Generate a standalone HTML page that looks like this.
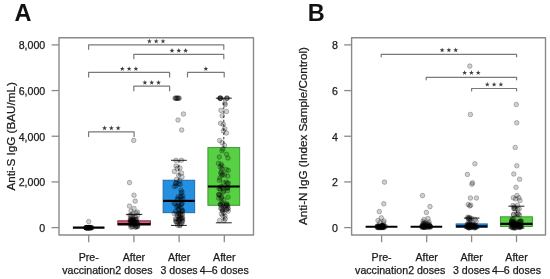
<!DOCTYPE html>
<html><head><meta charset="utf-8"><style>
html,body{margin:0;padding:0;background:#fff;width:550px;height:279px;overflow:hidden;position:relative}
</style></head><body>
<svg width="550" height="279" viewBox="0 0 550 279" style="position:absolute;left:0;top:0;will-change:transform;filter:blur(0.3px)">
<text x="14.4" y="20.6" style="font-family:'Liberation Sans', sans-serif;font-weight:bold;font-size:23.5px" fill="#111">A</text>
<text x="307.8" y="20.6" style="font-family:'Liberation Sans', sans-serif;font-weight:bold;font-size:23.5px" fill="#111">B</text>
<rect x="59.0" y="37.7" width="194.5" height="197.3" fill="none" stroke="#8a8a8a" stroke-width="1.4" stroke-linejoin="round"/>
<rect x="351.6" y="37.7" width="193.89999999999998" height="197.3" fill="none" stroke="#8a8a8a" stroke-width="1.4" stroke-linejoin="round"/>
<line x1="51.6" y1="44.900000000000006" x2="59.0" y2="44.900000000000006" stroke="#8a8a8a" stroke-width="1.3"/>
<text x="45.2" y="49.300000000000004" text-anchor="end" style="font-family:'Liberation Sans', sans-serif;font-size:10.6px" fill="#1a1a1a" stroke="#1a1a1a" stroke-width="0.25">8,000</text>
<line x1="51.6" y1="90.57500000000002" x2="59.0" y2="90.57500000000002" stroke="#8a8a8a" stroke-width="1.3"/>
<text x="45.2" y="94.97500000000002" text-anchor="end" style="font-family:'Liberation Sans', sans-serif;font-size:10.6px" fill="#1a1a1a" stroke="#1a1a1a" stroke-width="0.25">6,000</text>
<line x1="51.6" y1="136.25" x2="59.0" y2="136.25" stroke="#8a8a8a" stroke-width="1.3"/>
<text x="45.2" y="140.65" text-anchor="end" style="font-family:'Liberation Sans', sans-serif;font-size:10.6px" fill="#1a1a1a" stroke="#1a1a1a" stroke-width="0.25">4,000</text>
<line x1="51.6" y1="181.925" x2="59.0" y2="181.925" stroke="#8a8a8a" stroke-width="1.3"/>
<text x="45.2" y="186.32500000000002" text-anchor="end" style="font-family:'Liberation Sans', sans-serif;font-size:10.6px" fill="#1a1a1a" stroke="#1a1a1a" stroke-width="0.25">2,000</text>
<line x1="51.6" y1="227.6" x2="59.0" y2="227.6" stroke="#8a8a8a" stroke-width="1.3"/>
<text x="45.2" y="232.0" text-anchor="end" style="font-family:'Liberation Sans', sans-serif;font-size:10.6px" fill="#1a1a1a" stroke="#1a1a1a" stroke-width="0.25">0</text>
<line x1="344.20000000000005" y1="44.900000000000006" x2="351.6" y2="44.900000000000006" stroke="#8a8a8a" stroke-width="1.3"/>
<text x="337.8" y="49.300000000000004" text-anchor="end" style="font-family:'Liberation Sans', sans-serif;font-size:10.6px" fill="#1a1a1a" stroke="#1a1a1a" stroke-width="0.25">8</text>
<line x1="344.20000000000005" y1="90.57500000000002" x2="351.6" y2="90.57500000000002" stroke="#8a8a8a" stroke-width="1.3"/>
<text x="337.8" y="94.97500000000002" text-anchor="end" style="font-family:'Liberation Sans', sans-serif;font-size:10.6px" fill="#1a1a1a" stroke="#1a1a1a" stroke-width="0.25">6</text>
<line x1="344.20000000000005" y1="136.25" x2="351.6" y2="136.25" stroke="#8a8a8a" stroke-width="1.3"/>
<text x="337.8" y="140.65" text-anchor="end" style="font-family:'Liberation Sans', sans-serif;font-size:10.6px" fill="#1a1a1a" stroke="#1a1a1a" stroke-width="0.25">4</text>
<line x1="344.20000000000005" y1="181.925" x2="351.6" y2="181.925" stroke="#8a8a8a" stroke-width="1.3"/>
<text x="337.8" y="186.32500000000002" text-anchor="end" style="font-family:'Liberation Sans', sans-serif;font-size:10.6px" fill="#1a1a1a" stroke="#1a1a1a" stroke-width="0.25">2</text>
<line x1="344.20000000000005" y1="227.6" x2="351.6" y2="227.6" stroke="#8a8a8a" stroke-width="1.3"/>
<text x="337.8" y="232.0" text-anchor="end" style="font-family:'Liberation Sans', sans-serif;font-size:10.6px" fill="#1a1a1a" stroke="#1a1a1a" stroke-width="0.25">0</text>
<line x1="88.7" y1="235.0" x2="88.7" y2="242.2" stroke="#8a8a8a" stroke-width="1.3"/>
<text x="88.7" y="260.5" text-anchor="middle" style="font-family:'Liberation Sans', sans-serif;font-size:10.6px" fill="#1a1a1a" stroke="#1a1a1a" stroke-width="0.25">Pre-</text>
<text x="88.7" y="274.3" text-anchor="middle" style="font-family:'Liberation Sans', sans-serif;font-size:10.6px" fill="#1a1a1a" stroke="#1a1a1a" stroke-width="0.25">vaccination</text>
<line x1="133.9" y1="235.0" x2="133.9" y2="242.2" stroke="#8a8a8a" stroke-width="1.3"/>
<text x="133.9" y="260.5" text-anchor="middle" style="font-family:'Liberation Sans', sans-serif;font-size:10.6px" fill="#1a1a1a" stroke="#1a1a1a" stroke-width="0.25">After</text>
<text x="133.9" y="274.3" text-anchor="middle" style="font-family:'Liberation Sans', sans-serif;font-size:10.6px" fill="#1a1a1a" stroke="#1a1a1a" stroke-width="0.25">2 doses</text>
<line x1="179.1" y1="235.0" x2="179.1" y2="242.2" stroke="#8a8a8a" stroke-width="1.3"/>
<text x="179.1" y="260.5" text-anchor="middle" style="font-family:'Liberation Sans', sans-serif;font-size:10.6px" fill="#1a1a1a" stroke="#1a1a1a" stroke-width="0.25">After</text>
<text x="179.1" y="274.3" text-anchor="middle" style="font-family:'Liberation Sans', sans-serif;font-size:10.6px" fill="#1a1a1a" stroke="#1a1a1a" stroke-width="0.25">3 doses</text>
<line x1="224.3" y1="235.0" x2="224.3" y2="242.2" stroke="#8a8a8a" stroke-width="1.3"/>
<text x="224.3" y="260.5" text-anchor="middle" style="font-family:'Liberation Sans', sans-serif;font-size:10.6px" fill="#1a1a1a" stroke="#1a1a1a" stroke-width="0.25">After</text>
<text x="224.3" y="274.3" text-anchor="middle" style="font-family:'Liberation Sans', sans-serif;font-size:10.6px" fill="#1a1a1a" stroke="#1a1a1a" stroke-width="0.25">4–6 doses</text>
<line x1="381.6" y1="235.0" x2="381.6" y2="242.2" stroke="#8a8a8a" stroke-width="1.3"/>
<text x="381.6" y="260.5" text-anchor="middle" style="font-family:'Liberation Sans', sans-serif;font-size:10.6px" fill="#1a1a1a" stroke="#1a1a1a" stroke-width="0.25">Pre-</text>
<text x="381.6" y="274.3" text-anchor="middle" style="font-family:'Liberation Sans', sans-serif;font-size:10.6px" fill="#1a1a1a" stroke="#1a1a1a" stroke-width="0.25">vaccination</text>
<line x1="426.7" y1="235.0" x2="426.7" y2="242.2" stroke="#8a8a8a" stroke-width="1.3"/>
<text x="426.7" y="260.5" text-anchor="middle" style="font-family:'Liberation Sans', sans-serif;font-size:10.6px" fill="#1a1a1a" stroke="#1a1a1a" stroke-width="0.25">After</text>
<text x="426.7" y="274.3" text-anchor="middle" style="font-family:'Liberation Sans', sans-serif;font-size:10.6px" fill="#1a1a1a" stroke="#1a1a1a" stroke-width="0.25">2 doses</text>
<line x1="471.6" y1="235.0" x2="471.6" y2="242.2" stroke="#8a8a8a" stroke-width="1.3"/>
<text x="471.6" y="260.5" text-anchor="middle" style="font-family:'Liberation Sans', sans-serif;font-size:10.6px" fill="#1a1a1a" stroke="#1a1a1a" stroke-width="0.25">After</text>
<text x="471.6" y="274.3" text-anchor="middle" style="font-family:'Liberation Sans', sans-serif;font-size:10.6px" fill="#1a1a1a" stroke="#1a1a1a" stroke-width="0.25">3 doses</text>
<line x1="516.5" y1="235.0" x2="516.5" y2="242.2" stroke="#8a8a8a" stroke-width="1.3"/>
<text x="516.5" y="260.5" text-anchor="middle" style="font-family:'Liberation Sans', sans-serif;font-size:10.6px" fill="#1a1a1a" stroke="#1a1a1a" stroke-width="0.25">After</text>
<text x="516.5" y="274.3" text-anchor="middle" style="font-family:'Liberation Sans', sans-serif;font-size:10.6px" fill="#1a1a1a" stroke="#1a1a1a" stroke-width="0.25">4–6 doses</text>
<text transform="translate(14.8,136.3) rotate(-90)" text-anchor="middle" style="font-family:'Liberation Sans', sans-serif;font-size:11.7px" fill="#1a1a1a" stroke="#1a1a1a" stroke-width="0.25">Anti-S IgG (BAU/mL)</text>
<text transform="translate(307.3,136.0) rotate(-90)" text-anchor="middle" style="font-family:'Liberation Sans', sans-serif;font-size:11.7px" fill="#1a1a1a" stroke="#1a1a1a" stroke-width="0.25">Anti-N IgG (Index Sample/Control)</text>
<path d="M88.6,49.3 V44.9 H223.8 V49.3" fill="none" stroke="#7a7a7a" stroke-width="1.2" stroke-linejoin="round" stroke-linecap="round"/>
<polygon points="149.40,38.70 150.01,40.46 151.87,40.50 150.39,41.62 150.93,43.40 149.40,42.34 147.87,43.40 148.41,41.62 146.93,40.50 148.79,40.46" fill="#3c3c3c"/>
<polygon points="156.20,38.70 156.81,40.46 158.67,40.50 157.19,41.62 157.73,43.40 156.20,42.34 154.67,43.40 155.21,41.62 153.73,40.50 155.59,40.46" fill="#3c3c3c"/>
<polygon points="163.00,38.70 163.61,40.46 165.47,40.50 163.99,41.62 164.53,43.40 163.00,42.34 161.47,43.40 162.01,41.62 160.53,40.50 162.39,40.46" fill="#3c3c3c"/>
<path d="M133.8,58.699999999999996 V54.3 H223.8 V58.699999999999996" fill="none" stroke="#7a7a7a" stroke-width="1.2" stroke-linejoin="round" stroke-linecap="round"/>
<polygon points="172.00,48.10 172.61,49.86 174.47,49.90 172.99,51.02 173.53,52.80 172.00,51.74 170.47,52.80 171.01,51.02 169.53,49.90 171.39,49.86" fill="#3c3c3c"/>
<polygon points="178.80,48.10 179.41,49.86 181.27,49.90 179.79,51.02 180.33,52.80 178.80,51.74 177.27,52.80 177.81,51.02 176.33,49.90 178.19,49.86" fill="#3c3c3c"/>
<polygon points="185.60,48.10 186.21,49.86 188.07,49.90 186.59,51.02 187.13,52.80 185.60,51.74 184.07,52.80 184.61,51.02 183.13,49.90 184.99,49.86" fill="#3c3c3c"/>
<path d="M88.6,77.0 V72.4 H169.6 V77.0" fill="none" stroke="#7a7a7a" stroke-width="1.2" stroke-linejoin="round" stroke-linecap="round"/>
<polygon points="122.30,66.20 122.91,67.96 124.77,68.00 123.29,69.12 123.83,70.90 122.30,69.84 120.77,70.90 121.31,69.12 119.83,68.00 121.69,67.96" fill="#3c3c3c"/>
<polygon points="129.10,66.20 129.71,67.96 131.57,68.00 130.09,69.12 130.63,70.90 129.10,69.84 127.57,70.90 128.11,69.12 126.63,68.00 128.49,67.96" fill="#3c3c3c"/>
<polygon points="135.90,66.20 136.51,67.96 138.37,68.00 136.89,69.12 137.43,70.90 135.90,69.84 134.37,70.90 134.91,69.12 133.43,68.00 135.29,67.96" fill="#3c3c3c"/>
<path d="M187.5,77.0 V72.4 H224.2 V77.0" fill="none" stroke="#7a7a7a" stroke-width="1.2" stroke-linejoin="round" stroke-linecap="round"/>
<polygon points="205.85,66.20 206.46,67.96 208.32,68.00 206.84,69.12 207.38,70.90 205.85,69.84 204.32,70.90 204.86,69.12 203.38,68.00 205.24,67.96" fill="#3c3c3c"/>
<path d="M133.8,90.8 V86.2 H169.6 V90.8" fill="none" stroke="#7a7a7a" stroke-width="1.2" stroke-linejoin="round" stroke-linecap="round"/>
<polygon points="144.90,80.00 145.51,81.76 147.37,81.80 145.89,82.92 146.43,84.70 144.90,83.64 143.37,84.70 143.91,82.92 142.43,81.80 144.29,81.76" fill="#3c3c3c"/>
<polygon points="151.70,80.00 152.31,81.76 154.17,81.80 152.69,82.92 153.23,84.70 151.70,83.64 150.17,84.70 150.71,82.92 149.23,81.80 151.09,81.76" fill="#3c3c3c"/>
<polygon points="158.50,80.00 159.11,81.76 160.97,81.80 159.49,82.92 160.03,84.70 158.50,83.64 156.97,84.70 157.51,82.92 156.03,81.80 157.89,81.76" fill="#3c3c3c"/>
<path d="M88.6,136.4 V131.8 H134.1 V136.4" fill="none" stroke="#7a7a7a" stroke-width="1.2" stroke-linejoin="round" stroke-linecap="round"/>
<polygon points="104.55,125.60 105.16,127.36 107.02,127.40 105.54,128.52 106.08,130.30 104.55,129.24 103.02,130.30 103.56,128.52 102.08,127.40 103.94,127.36" fill="#3c3c3c"/>
<polygon points="111.35,125.60 111.96,127.36 113.82,127.40 112.34,128.52 112.88,130.30 111.35,129.24 109.82,130.30 110.36,128.52 108.88,127.40 110.74,127.36" fill="#3c3c3c"/>
<polygon points="118.15,125.60 118.76,127.36 120.62,127.40 119.14,128.52 119.68,130.30 118.15,129.24 116.62,130.30 117.16,128.52 115.68,127.40 117.54,127.36" fill="#3c3c3c"/>
<path d="M381.2,56.8 V54.4 H516.6 V56.8" fill="none" stroke="#7a7a7a" stroke-width="1.2" stroke-linejoin="round" stroke-linecap="round"/>
<polygon points="442.10,47.60 442.71,49.36 444.57,49.40 443.09,50.52 443.63,52.30 442.10,51.24 440.57,52.30 441.11,50.52 439.63,49.40 441.49,49.36" fill="#3c3c3c"/>
<polygon points="448.90,47.60 449.51,49.36 451.37,49.40 449.89,50.52 450.43,52.30 448.90,51.24 447.37,52.30 447.91,50.52 446.43,49.40 448.29,49.36" fill="#3c3c3c"/>
<polygon points="455.70,47.60 456.31,49.36 458.17,49.40 456.69,50.52 457.23,52.30 455.70,51.24 454.17,52.30 454.71,50.52 453.23,49.40 455.09,49.36" fill="#3c3c3c"/>
<path d="M426.2,79.80000000000001 V77.4 H516.6 V79.80000000000001" fill="none" stroke="#7a7a7a" stroke-width="1.2" stroke-linejoin="round" stroke-linecap="round"/>
<polygon points="464.60,70.20 465.21,71.96 467.07,72.00 465.59,73.12 466.13,74.90 464.60,73.84 463.07,74.90 463.61,73.12 462.13,72.00 463.99,71.96" fill="#3c3c3c"/>
<polygon points="471.40,70.20 472.01,71.96 473.87,72.00 472.39,73.12 472.93,74.90 471.40,73.84 469.87,74.90 470.41,73.12 468.93,72.00 470.79,71.96" fill="#3c3c3c"/>
<polygon points="478.20,70.20 478.81,71.96 480.67,72.00 479.19,73.12 479.73,74.90 478.20,73.84 476.67,74.90 477.21,73.12 475.73,72.00 477.59,71.96" fill="#3c3c3c"/>
<path d="M471.6,90.9 V88.5 H516.6 V90.9" fill="none" stroke="#7a7a7a" stroke-width="1.2" stroke-linejoin="round" stroke-linecap="round"/>
<polygon points="487.30,81.90 487.91,83.66 489.77,83.70 488.29,84.82 488.83,86.60 487.30,85.54 485.77,86.60 486.31,84.82 484.83,83.70 486.69,83.66" fill="#3c3c3c"/>
<polygon points="494.10,81.90 494.71,83.66 496.57,83.70 495.09,84.82 495.63,86.60 494.10,85.54 492.57,86.60 493.11,84.82 491.63,83.70 493.49,83.66" fill="#3c3c3c"/>
<polygon points="500.90,81.90 501.51,83.66 503.37,83.70 501.89,84.82 502.43,86.60 500.90,85.54 499.37,86.60 499.91,84.82 498.43,83.70 500.29,83.66" fill="#3c3c3c"/>
<line x1="72.9" y1="227.7" x2="104.5" y2="227.7" stroke="#000" stroke-width="2.2"/>
<line x1="134.1" y1="214.4" x2="134.1" y2="220.8" stroke="#222" stroke-width="0.9" stroke-dasharray="2.5,1.8"/>
<line x1="125.94999999999999" y1="214.4" x2="142.25" y2="214.4" stroke="#222" stroke-width="1"/>
<rect x="117.8" y="220.8" width="32.6" height="4.199999999999989" fill="#e2557a" stroke="#7a2030" stroke-width="0.9"/>
<line x1="117.8" y1="224.1" x2="150.4" y2="224.1" stroke="#000" stroke-width="2.2"/>
<line x1="178.9" y1="160.3" x2="178.9" y2="180.2" stroke="#222" stroke-width="0.9" stroke-dasharray="2.5,1.8"/>
<line x1="171.0" y1="160.3" x2="186.8" y2="160.3" stroke="#222" stroke-width="1"/>
<line x1="178.9" y1="212.7" x2="178.9" y2="225.4" stroke="#222" stroke-width="0.9" stroke-dasharray="2.5,1.8"/>
<line x1="171.0" y1="225.4" x2="186.8" y2="225.4" stroke="#222" stroke-width="1"/>
<rect x="163.1" y="180.2" width="31.6" height="32.5" fill="#2590e0" stroke="#1a65a8" stroke-width="0.9"/>
<line x1="163.1" y1="200.9" x2="194.70000000000002" y2="200.9" stroke="#000" stroke-width="2.2"/>
<line x1="223.8" y1="98.2" x2="223.8" y2="147.6" stroke="#222" stroke-width="0.9" stroke-dasharray="2.5,1.8"/>
<line x1="215.85000000000002" y1="98.2" x2="231.75" y2="98.2" stroke="#222" stroke-width="1"/>
<line x1="223.8" y1="205.3" x2="223.8" y2="222.8" stroke="#222" stroke-width="0.9" stroke-dasharray="2.5,1.8"/>
<line x1="215.85000000000002" y1="222.8" x2="231.75" y2="222.8" stroke="#222" stroke-width="1"/>
<rect x="207.9" y="147.6" width="31.8" height="57.70000000000002" fill="#58d044" stroke="#34902a" stroke-width="0.9"/>
<line x1="207.9" y1="186.5" x2="239.70000000000002" y2="186.5" stroke="#000" stroke-width="2.2"/>
<line x1="365.6" y1="226.8" x2="397.4" y2="226.8" stroke="#000" stroke-width="2.0"/>
<line x1="410.59999999999997" y1="226.8" x2="442.2" y2="226.8" stroke="#000" stroke-width="2.0"/>
<line x1="471.7" y1="218.1" x2="471.7" y2="223.9" stroke="#222" stroke-width="0.9" stroke-dasharray="2.5,1.8"/>
<line x1="463.9" y1="218.1" x2="479.5" y2="218.1" stroke="#222" stroke-width="1"/>
<line x1="471.7" y1="227.2" x2="471.7" y2="228.0" stroke="#222" stroke-width="0.9" stroke-dasharray="2.5,1.8"/>
<line x1="463.9" y1="228.0" x2="479.5" y2="228.0" stroke="#222" stroke-width="1"/>
<rect x="456.09999999999997" y="223.9" width="31.2" height="3.299999999999983" fill="#2590e0" stroke="#1a65a8" stroke-width="0.9"/>
<line x1="456.09999999999997" y1="226.4" x2="487.3" y2="226.4" stroke="#000" stroke-width="2.2"/>
<line x1="516.4" y1="206.2" x2="516.4" y2="216.8" stroke="#222" stroke-width="0.9" stroke-dasharray="2.5,1.8"/>
<line x1="508.4" y1="206.2" x2="524.4" y2="206.2" stroke="#222" stroke-width="1"/>
<line x1="516.4" y1="226.5" x2="516.4" y2="228.0" stroke="#222" stroke-width="0.9" stroke-dasharray="2.5,1.8"/>
<line x1="508.4" y1="228.0" x2="524.4" y2="228.0" stroke="#222" stroke-width="1"/>
<rect x="500.4" y="216.8" width="32.0" height="9.699999999999989" fill="#58d044" stroke="#34902a" stroke-width="0.9"/>
<line x1="500.4" y1="223.8" x2="532.4" y2="223.8" stroke="#000" stroke-width="2.2"/>
<circle cx="86.5" cy="227.7" r="2.3" fill="rgba(0,0,0,0.19)" stroke="rgba(0,0,0,0.32)" stroke-width="0.8"/>
<circle cx="86.0" cy="227.7" r="2.3" fill="rgba(0,0,0,0.19)" stroke="rgba(0,0,0,0.32)" stroke-width="0.8"/>
<circle cx="88.0" cy="227.7" r="2.3" fill="rgba(0,0,0,0.19)" stroke="rgba(0,0,0,0.32)" stroke-width="0.8"/>
<circle cx="89.0" cy="227.7" r="2.3" fill="rgba(0,0,0,0.19)" stroke="rgba(0,0,0,0.32)" stroke-width="0.8"/>
<circle cx="88.4" cy="227.7" r="2.3" fill="rgba(0,0,0,0.19)" stroke="rgba(0,0,0,0.32)" stroke-width="0.8"/>
<circle cx="86.1" cy="227.7" r="2.3" fill="rgba(0,0,0,0.19)" stroke="rgba(0,0,0,0.32)" stroke-width="0.8"/>
<circle cx="91.1" cy="227.7" r="2.3" fill="rgba(0,0,0,0.19)" stroke="rgba(0,0,0,0.32)" stroke-width="0.8"/>
<circle cx="87.0" cy="227.7" r="2.3" fill="rgba(0,0,0,0.19)" stroke="rgba(0,0,0,0.32)" stroke-width="0.8"/>
<circle cx="91.9" cy="227.7" r="2.3" fill="rgba(0,0,0,0.19)" stroke="rgba(0,0,0,0.32)" stroke-width="0.8"/>
<circle cx="88.2" cy="227.7" r="2.3" fill="rgba(0,0,0,0.19)" stroke="rgba(0,0,0,0.32)" stroke-width="0.8"/>
<circle cx="85.8" cy="227.7" r="2.3" fill="rgba(0,0,0,0.19)" stroke="rgba(0,0,0,0.32)" stroke-width="0.8"/>
<circle cx="87.5" cy="227.7" r="2.3" fill="rgba(0,0,0,0.19)" stroke="rgba(0,0,0,0.32)" stroke-width="0.8"/>
<circle cx="86.3" cy="227.7" r="2.3" fill="rgba(0,0,0,0.19)" stroke="rgba(0,0,0,0.32)" stroke-width="0.8"/>
<circle cx="91.0" cy="227.7" r="2.3" fill="rgba(0,0,0,0.19)" stroke="rgba(0,0,0,0.32)" stroke-width="0.8"/>
<circle cx="89.5" cy="227.7" r="2.3" fill="rgba(0,0,0,0.19)" stroke="rgba(0,0,0,0.32)" stroke-width="0.8"/>
<circle cx="88.0" cy="227.7" r="2.3" fill="rgba(0,0,0,0.19)" stroke="rgba(0,0,0,0.32)" stroke-width="0.8"/>
<circle cx="85.9" cy="227.7" r="2.3" fill="rgba(0,0,0,0.19)" stroke="rgba(0,0,0,0.32)" stroke-width="0.8"/>
<circle cx="86.9" cy="227.7" r="2.3" fill="rgba(0,0,0,0.19)" stroke="rgba(0,0,0,0.32)" stroke-width="0.8"/>
<circle cx="88.4" cy="227.7" r="2.3" fill="rgba(0,0,0,0.19)" stroke="rgba(0,0,0,0.32)" stroke-width="0.8"/>
<circle cx="89.5" cy="227.7" r="2.3" fill="rgba(0,0,0,0.19)" stroke="rgba(0,0,0,0.32)" stroke-width="0.8"/>
<circle cx="87.5" cy="227.7" r="2.3" fill="rgba(0,0,0,0.19)" stroke="rgba(0,0,0,0.32)" stroke-width="0.8"/>
<circle cx="90.3" cy="227.7" r="2.3" fill="rgba(0,0,0,0.19)" stroke="rgba(0,0,0,0.32)" stroke-width="0.8"/>
<circle cx="89.4" cy="227.7" r="2.3" fill="rgba(0,0,0,0.19)" stroke="rgba(0,0,0,0.32)" stroke-width="0.8"/>
<circle cx="91.5" cy="227.7" r="2.3" fill="rgba(0,0,0,0.19)" stroke="rgba(0,0,0,0.32)" stroke-width="0.8"/>
<circle cx="87.5" cy="227.7" r="2.3" fill="rgba(0,0,0,0.19)" stroke="rgba(0,0,0,0.32)" stroke-width="0.8"/>
<circle cx="86.3" cy="227.7" r="2.3" fill="rgba(0,0,0,0.19)" stroke="rgba(0,0,0,0.32)" stroke-width="0.8"/>
<circle cx="90.6" cy="227.7" r="2.3" fill="rgba(0,0,0,0.19)" stroke="rgba(0,0,0,0.32)" stroke-width="0.8"/>
<circle cx="88.8" cy="227.7" r="2.3" fill="rgba(0,0,0,0.19)" stroke="rgba(0,0,0,0.32)" stroke-width="0.8"/>
<circle cx="90.0" cy="227.7" r="2.3" fill="rgba(0,0,0,0.19)" stroke="rgba(0,0,0,0.32)" stroke-width="0.8"/>
<circle cx="89.4" cy="227.7" r="2.3" fill="rgba(0,0,0,0.19)" stroke="rgba(0,0,0,0.32)" stroke-width="0.8"/>
<circle cx="88.7" cy="221.6" r="2.3" fill="rgba(0,0,0,0.19)" stroke="rgba(0,0,0,0.32)" stroke-width="0.8"/>
<circle cx="132.3" cy="226.6" r="2.3" fill="rgba(0,0,0,0.19)" stroke="rgba(0,0,0,0.32)" stroke-width="0.8"/>
<circle cx="134.6" cy="225.0" r="2.3" fill="rgba(0,0,0,0.19)" stroke="rgba(0,0,0,0.32)" stroke-width="0.8"/>
<circle cx="133.4" cy="224.0" r="2.3" fill="rgba(0,0,0,0.19)" stroke="rgba(0,0,0,0.32)" stroke-width="0.8"/>
<circle cx="137.4" cy="226.3" r="2.3" fill="rgba(0,0,0,0.19)" stroke="rgba(0,0,0,0.32)" stroke-width="0.8"/>
<circle cx="135.1" cy="223.1" r="2.3" fill="rgba(0,0,0,0.19)" stroke="rgba(0,0,0,0.32)" stroke-width="0.8"/>
<circle cx="135.4" cy="219.5" r="2.3" fill="rgba(0,0,0,0.19)" stroke="rgba(0,0,0,0.32)" stroke-width="0.8"/>
<circle cx="137.7" cy="224.6" r="2.3" fill="rgba(0,0,0,0.19)" stroke="rgba(0,0,0,0.32)" stroke-width="0.8"/>
<circle cx="132.1" cy="226.2" r="2.3" fill="rgba(0,0,0,0.19)" stroke="rgba(0,0,0,0.32)" stroke-width="0.8"/>
<circle cx="135.1" cy="222.4" r="2.3" fill="rgba(0,0,0,0.19)" stroke="rgba(0,0,0,0.32)" stroke-width="0.8"/>
<circle cx="133.5" cy="219.2" r="2.3" fill="rgba(0,0,0,0.19)" stroke="rgba(0,0,0,0.32)" stroke-width="0.8"/>
<circle cx="130.7" cy="220.5" r="2.3" fill="rgba(0,0,0,0.19)" stroke="rgba(0,0,0,0.32)" stroke-width="0.8"/>
<circle cx="135.9" cy="219.5" r="2.3" fill="rgba(0,0,0,0.19)" stroke="rgba(0,0,0,0.32)" stroke-width="0.8"/>
<circle cx="131.8" cy="220.1" r="2.3" fill="rgba(0,0,0,0.19)" stroke="rgba(0,0,0,0.32)" stroke-width="0.8"/>
<circle cx="136.8" cy="222.4" r="2.3" fill="rgba(0,0,0,0.19)" stroke="rgba(0,0,0,0.32)" stroke-width="0.8"/>
<circle cx="133.4" cy="219.7" r="2.3" fill="rgba(0,0,0,0.19)" stroke="rgba(0,0,0,0.32)" stroke-width="0.8"/>
<circle cx="136.9" cy="223.8" r="2.3" fill="rgba(0,0,0,0.19)" stroke="rgba(0,0,0,0.32)" stroke-width="0.8"/>
<circle cx="136.7" cy="226.1" r="2.3" fill="rgba(0,0,0,0.19)" stroke="rgba(0,0,0,0.32)" stroke-width="0.8"/>
<circle cx="133.1" cy="221.4" r="2.3" fill="rgba(0,0,0,0.19)" stroke="rgba(0,0,0,0.32)" stroke-width="0.8"/>
<circle cx="136.9" cy="222.1" r="2.3" fill="rgba(0,0,0,0.19)" stroke="rgba(0,0,0,0.32)" stroke-width="0.8"/>
<circle cx="131.0" cy="227.3" r="2.3" fill="rgba(0,0,0,0.19)" stroke="rgba(0,0,0,0.32)" stroke-width="0.8"/>
<circle cx="131.7" cy="220.5" r="2.3" fill="rgba(0,0,0,0.19)" stroke="rgba(0,0,0,0.32)" stroke-width="0.8"/>
<circle cx="133.7" cy="221.0" r="2.3" fill="rgba(0,0,0,0.19)" stroke="rgba(0,0,0,0.32)" stroke-width="0.8"/>
<circle cx="131.9" cy="224.1" r="2.3" fill="rgba(0,0,0,0.19)" stroke="rgba(0,0,0,0.32)" stroke-width="0.8"/>
<circle cx="133.2" cy="219.0" r="2.3" fill="rgba(0,0,0,0.19)" stroke="rgba(0,0,0,0.32)" stroke-width="0.8"/>
<circle cx="134.3" cy="222.2" r="2.3" fill="rgba(0,0,0,0.19)" stroke="rgba(0,0,0,0.32)" stroke-width="0.8"/>
<circle cx="135.3" cy="227.3" r="2.3" fill="rgba(0,0,0,0.19)" stroke="rgba(0,0,0,0.32)" stroke-width="0.8"/>
<circle cx="134.7" cy="223.5" r="2.3" fill="rgba(0,0,0,0.19)" stroke="rgba(0,0,0,0.32)" stroke-width="0.8"/>
<circle cx="130.2" cy="224.9" r="2.3" fill="rgba(0,0,0,0.19)" stroke="rgba(0,0,0,0.32)" stroke-width="0.8"/>
<circle cx="136.0" cy="226.8" r="2.3" fill="rgba(0,0,0,0.19)" stroke="rgba(0,0,0,0.32)" stroke-width="0.8"/>
<circle cx="136.2" cy="226.6" r="2.3" fill="rgba(0,0,0,0.19)" stroke="rgba(0,0,0,0.32)" stroke-width="0.8"/>
<circle cx="133.0" cy="222.4" r="2.3" fill="rgba(0,0,0,0.19)" stroke="rgba(0,0,0,0.32)" stroke-width="0.8"/>
<circle cx="134.9" cy="219.9" r="2.3" fill="rgba(0,0,0,0.19)" stroke="rgba(0,0,0,0.32)" stroke-width="0.8"/>
<circle cx="130.3" cy="219.5" r="2.3" fill="rgba(0,0,0,0.19)" stroke="rgba(0,0,0,0.32)" stroke-width="0.8"/>
<circle cx="131.1" cy="220.8" r="2.3" fill="rgba(0,0,0,0.19)" stroke="rgba(0,0,0,0.32)" stroke-width="0.8"/>
<circle cx="130.2" cy="222.0" r="2.3" fill="rgba(0,0,0,0.19)" stroke="rgba(0,0,0,0.32)" stroke-width="0.8"/>
<circle cx="131.0" cy="219.0" r="2.3" fill="rgba(0,0,0,0.19)" stroke="rgba(0,0,0,0.32)" stroke-width="0.8"/>
<circle cx="132.7" cy="219.9" r="2.3" fill="rgba(0,0,0,0.19)" stroke="rgba(0,0,0,0.32)" stroke-width="0.8"/>
<circle cx="136.8" cy="219.2" r="2.3" fill="rgba(0,0,0,0.19)" stroke="rgba(0,0,0,0.32)" stroke-width="0.8"/>
<circle cx="131.0" cy="224.3" r="2.3" fill="rgba(0,0,0,0.19)" stroke="rgba(0,0,0,0.32)" stroke-width="0.8"/>
<circle cx="132.6" cy="221.2" r="2.3" fill="rgba(0,0,0,0.19)" stroke="rgba(0,0,0,0.32)" stroke-width="0.8"/>
<circle cx="130.8" cy="222.2" r="2.3" fill="rgba(0,0,0,0.19)" stroke="rgba(0,0,0,0.32)" stroke-width="0.8"/>
<circle cx="137.7" cy="226.4" r="2.3" fill="rgba(0,0,0,0.19)" stroke="rgba(0,0,0,0.32)" stroke-width="0.8"/>
<circle cx="133.7" cy="223.1" r="2.3" fill="rgba(0,0,0,0.19)" stroke="rgba(0,0,0,0.32)" stroke-width="0.8"/>
<circle cx="130.6" cy="219.7" r="2.3" fill="rgba(0,0,0,0.19)" stroke="rgba(0,0,0,0.32)" stroke-width="0.8"/>
<circle cx="131.9" cy="222.0" r="2.3" fill="rgba(0,0,0,0.19)" stroke="rgba(0,0,0,0.32)" stroke-width="0.8"/>
<circle cx="131.1" cy="217.0" r="2.3" fill="rgba(0,0,0,0.19)" stroke="rgba(0,0,0,0.32)" stroke-width="0.8"/>
<circle cx="137.4" cy="212.1" r="2.3" fill="rgba(0,0,0,0.19)" stroke="rgba(0,0,0,0.32)" stroke-width="0.8"/>
<circle cx="131.0" cy="215.2" r="2.3" fill="rgba(0,0,0,0.19)" stroke="rgba(0,0,0,0.32)" stroke-width="0.8"/>
<circle cx="130.0" cy="215.3" r="2.3" fill="rgba(0,0,0,0.19)" stroke="rgba(0,0,0,0.32)" stroke-width="0.8"/>
<circle cx="137.6" cy="215.2" r="2.3" fill="rgba(0,0,0,0.19)" stroke="rgba(0,0,0,0.32)" stroke-width="0.8"/>
<circle cx="135.4" cy="217.2" r="2.3" fill="rgba(0,0,0,0.19)" stroke="rgba(0,0,0,0.32)" stroke-width="0.8"/>
<circle cx="132.7" cy="213.6" r="2.3" fill="rgba(0,0,0,0.19)" stroke="rgba(0,0,0,0.32)" stroke-width="0.8"/>
<circle cx="136.0" cy="213.0" r="2.3" fill="rgba(0,0,0,0.19)" stroke="rgba(0,0,0,0.32)" stroke-width="0.8"/>
<circle cx="133.7" cy="140.4" r="2.3" fill="rgba(0,0,0,0.19)" stroke="rgba(0,0,0,0.32)" stroke-width="0.8"/>
<circle cx="129.5" cy="182.6" r="2.3" fill="rgba(0,0,0,0.19)" stroke="rgba(0,0,0,0.32)" stroke-width="0.8"/>
<circle cx="134.0" cy="195.2" r="2.3" fill="rgba(0,0,0,0.19)" stroke="rgba(0,0,0,0.32)" stroke-width="0.8"/>
<circle cx="135.2" cy="201.1" r="2.3" fill="rgba(0,0,0,0.19)" stroke="rgba(0,0,0,0.32)" stroke-width="0.8"/>
<circle cx="129.5" cy="206.1" r="2.3" fill="rgba(0,0,0,0.19)" stroke="rgba(0,0,0,0.32)" stroke-width="0.8"/>
<circle cx="134.0" cy="208.5" r="2.3" fill="rgba(0,0,0,0.19)" stroke="rgba(0,0,0,0.32)" stroke-width="0.8"/>
<circle cx="131.0" cy="211.0" r="2.3" fill="rgba(0,0,0,0.19)" stroke="rgba(0,0,0,0.32)" stroke-width="0.8"/>
<circle cx="175.0" cy="98.2" r="2.3" fill="rgba(0,0,0,0.19)" stroke="rgba(0,0,0,0.32)" stroke-width="0.8"/>
<circle cx="175.6" cy="98.2" r="2.3" fill="rgba(0,0,0,0.19)" stroke="rgba(0,0,0,0.32)" stroke-width="0.8"/>
<circle cx="176.2" cy="98.2" r="2.3" fill="rgba(0,0,0,0.19)" stroke="rgba(0,0,0,0.32)" stroke-width="0.8"/>
<circle cx="176.8" cy="98.2" r="2.3" fill="rgba(0,0,0,0.19)" stroke="rgba(0,0,0,0.32)" stroke-width="0.8"/>
<circle cx="177.4" cy="98.2" r="2.3" fill="rgba(0,0,0,0.19)" stroke="rgba(0,0,0,0.32)" stroke-width="0.8"/>
<circle cx="178.0" cy="98.2" r="2.3" fill="rgba(0,0,0,0.19)" stroke="rgba(0,0,0,0.32)" stroke-width="0.8"/>
<circle cx="178.6" cy="98.2" r="2.3" fill="rgba(0,0,0,0.19)" stroke="rgba(0,0,0,0.32)" stroke-width="0.8"/>
<circle cx="179.2" cy="98.2" r="2.3" fill="rgba(0,0,0,0.19)" stroke="rgba(0,0,0,0.32)" stroke-width="0.8"/>
<circle cx="183.4" cy="114.0" r="2.3" fill="rgba(0,0,0,0.19)" stroke="rgba(0,0,0,0.32)" stroke-width="0.8"/>
<circle cx="178.0" cy="120.0" r="2.3" fill="rgba(0,0,0,0.19)" stroke="rgba(0,0,0,0.32)" stroke-width="0.8"/>
<circle cx="181.7" cy="130.0" r="2.3" fill="rgba(0,0,0,0.19)" stroke="rgba(0,0,0,0.32)" stroke-width="0.8"/>
<circle cx="176.0" cy="160.3" r="2.3" fill="rgba(0,0,0,0.19)" stroke="rgba(0,0,0,0.32)" stroke-width="0.8"/>
<circle cx="181.5" cy="160.3" r="2.3" fill="rgba(0,0,0,0.19)" stroke="rgba(0,0,0,0.32)" stroke-width="0.8"/>
<circle cx="177.2" cy="168.6" r="2.3" fill="rgba(0,0,0,0.19)" stroke="rgba(0,0,0,0.32)" stroke-width="0.8"/>
<circle cx="180.0" cy="168.0" r="2.3" fill="rgba(0,0,0,0.19)" stroke="rgba(0,0,0,0.32)" stroke-width="0.8"/>
<circle cx="174.3" cy="171.5" r="2.3" fill="rgba(0,0,0,0.19)" stroke="rgba(0,0,0,0.32)" stroke-width="0.8"/>
<circle cx="181.5" cy="173.0" r="2.3" fill="rgba(0,0,0,0.19)" stroke="rgba(0,0,0,0.32)" stroke-width="0.8"/>
<circle cx="178.6" cy="175.0" r="2.3" fill="rgba(0,0,0,0.19)" stroke="rgba(0,0,0,0.32)" stroke-width="0.8"/>
<circle cx="176.0" cy="166.0" r="2.3" fill="rgba(0,0,0,0.19)" stroke="rgba(0,0,0,0.32)" stroke-width="0.8"/>
<circle cx="182.0" cy="177.0" r="2.3" fill="rgba(0,0,0,0.19)" stroke="rgba(0,0,0,0.32)" stroke-width="0.8"/>
<circle cx="181.0" cy="190.2" r="2.3" fill="rgba(0,0,0,0.19)" stroke="rgba(0,0,0,0.32)" stroke-width="0.8"/>
<circle cx="176.0" cy="185.9" r="2.3" fill="rgba(0,0,0,0.19)" stroke="rgba(0,0,0,0.32)" stroke-width="0.8"/>
<circle cx="182.9" cy="196.0" r="2.3" fill="rgba(0,0,0,0.19)" stroke="rgba(0,0,0,0.32)" stroke-width="0.8"/>
<circle cx="181.3" cy="196.9" r="2.3" fill="rgba(0,0,0,0.19)" stroke="rgba(0,0,0,0.32)" stroke-width="0.8"/>
<circle cx="180.7" cy="196.2" r="2.3" fill="rgba(0,0,0,0.19)" stroke="rgba(0,0,0,0.32)" stroke-width="0.8"/>
<circle cx="178.7" cy="183.8" r="2.3" fill="rgba(0,0,0,0.19)" stroke="rgba(0,0,0,0.32)" stroke-width="0.8"/>
<circle cx="174.3" cy="186.5" r="2.3" fill="rgba(0,0,0,0.19)" stroke="rgba(0,0,0,0.32)" stroke-width="0.8"/>
<circle cx="176.5" cy="179.6" r="2.3" fill="rgba(0,0,0,0.19)" stroke="rgba(0,0,0,0.32)" stroke-width="0.8"/>
<circle cx="180.2" cy="184.4" r="2.3" fill="rgba(0,0,0,0.19)" stroke="rgba(0,0,0,0.32)" stroke-width="0.8"/>
<circle cx="178.0" cy="199.1" r="2.3" fill="rgba(0,0,0,0.19)" stroke="rgba(0,0,0,0.32)" stroke-width="0.8"/>
<circle cx="182.9" cy="198.7" r="2.3" fill="rgba(0,0,0,0.19)" stroke="rgba(0,0,0,0.32)" stroke-width="0.8"/>
<circle cx="177.3" cy="199.1" r="2.3" fill="rgba(0,0,0,0.19)" stroke="rgba(0,0,0,0.32)" stroke-width="0.8"/>
<circle cx="176.0" cy="183.6" r="2.3" fill="rgba(0,0,0,0.19)" stroke="rgba(0,0,0,0.32)" stroke-width="0.8"/>
<circle cx="175.8" cy="183.1" r="2.3" fill="rgba(0,0,0,0.19)" stroke="rgba(0,0,0,0.32)" stroke-width="0.8"/>
<circle cx="182.1" cy="192.1" r="2.3" fill="rgba(0,0,0,0.19)" stroke="rgba(0,0,0,0.32)" stroke-width="0.8"/>
<circle cx="178.3" cy="196.6" r="2.3" fill="rgba(0,0,0,0.19)" stroke="rgba(0,0,0,0.32)" stroke-width="0.8"/>
<circle cx="181.2" cy="192.7" r="2.3" fill="rgba(0,0,0,0.19)" stroke="rgba(0,0,0,0.32)" stroke-width="0.8"/>
<circle cx="179.9" cy="180.8" r="2.3" fill="rgba(0,0,0,0.19)" stroke="rgba(0,0,0,0.32)" stroke-width="0.8"/>
<circle cx="181.0" cy="223.7" r="2.3" fill="rgba(0,0,0,0.19)" stroke="rgba(0,0,0,0.32)" stroke-width="0.8"/>
<circle cx="178.3" cy="219.5" r="2.3" fill="rgba(0,0,0,0.19)" stroke="rgba(0,0,0,0.32)" stroke-width="0.8"/>
<circle cx="181.1" cy="204.6" r="2.3" fill="rgba(0,0,0,0.19)" stroke="rgba(0,0,0,0.32)" stroke-width="0.8"/>
<circle cx="181.2" cy="208.6" r="2.3" fill="rgba(0,0,0,0.19)" stroke="rgba(0,0,0,0.32)" stroke-width="0.8"/>
<circle cx="177.6" cy="225.3" r="2.3" fill="rgba(0,0,0,0.19)" stroke="rgba(0,0,0,0.32)" stroke-width="0.8"/>
<circle cx="182.5" cy="210.4" r="2.3" fill="rgba(0,0,0,0.19)" stroke="rgba(0,0,0,0.32)" stroke-width="0.8"/>
<circle cx="175.5" cy="218.8" r="2.3" fill="rgba(0,0,0,0.19)" stroke="rgba(0,0,0,0.32)" stroke-width="0.8"/>
<circle cx="175.4" cy="203.3" r="2.3" fill="rgba(0,0,0,0.19)" stroke="rgba(0,0,0,0.32)" stroke-width="0.8"/>
<circle cx="181.3" cy="223.5" r="2.3" fill="rgba(0,0,0,0.19)" stroke="rgba(0,0,0,0.32)" stroke-width="0.8"/>
<circle cx="181.4" cy="203.8" r="2.3" fill="rgba(0,0,0,0.19)" stroke="rgba(0,0,0,0.32)" stroke-width="0.8"/>
<circle cx="179.9" cy="225.5" r="2.3" fill="rgba(0,0,0,0.19)" stroke="rgba(0,0,0,0.32)" stroke-width="0.8"/>
<circle cx="178.9" cy="209.1" r="2.3" fill="rgba(0,0,0,0.19)" stroke="rgba(0,0,0,0.32)" stroke-width="0.8"/>
<circle cx="174.1" cy="203.4" r="2.3" fill="rgba(0,0,0,0.19)" stroke="rgba(0,0,0,0.32)" stroke-width="0.8"/>
<circle cx="179.8" cy="225.2" r="2.3" fill="rgba(0,0,0,0.19)" stroke="rgba(0,0,0,0.32)" stroke-width="0.8"/>
<circle cx="182.4" cy="213.7" r="2.3" fill="rgba(0,0,0,0.19)" stroke="rgba(0,0,0,0.32)" stroke-width="0.8"/>
<circle cx="181.8" cy="211.3" r="2.3" fill="rgba(0,0,0,0.19)" stroke="rgba(0,0,0,0.32)" stroke-width="0.8"/>
<circle cx="175.9" cy="221.5" r="2.3" fill="rgba(0,0,0,0.19)" stroke="rgba(0,0,0,0.32)" stroke-width="0.8"/>
<circle cx="176.6" cy="206.5" r="2.3" fill="rgba(0,0,0,0.19)" stroke="rgba(0,0,0,0.32)" stroke-width="0.8"/>
<circle cx="179.3" cy="206.3" r="2.3" fill="rgba(0,0,0,0.19)" stroke="rgba(0,0,0,0.32)" stroke-width="0.8"/>
<circle cx="177.8" cy="206.7" r="2.3" fill="rgba(0,0,0,0.19)" stroke="rgba(0,0,0,0.32)" stroke-width="0.8"/>
<circle cx="182.2" cy="203.4" r="2.3" fill="rgba(0,0,0,0.19)" stroke="rgba(0,0,0,0.32)" stroke-width="0.8"/>
<circle cx="178.1" cy="209.2" r="2.3" fill="rgba(0,0,0,0.19)" stroke="rgba(0,0,0,0.32)" stroke-width="0.8"/>
<circle cx="182.1" cy="215.2" r="2.3" fill="rgba(0,0,0,0.19)" stroke="rgba(0,0,0,0.32)" stroke-width="0.8"/>
<circle cx="182.3" cy="210.9" r="2.3" fill="rgba(0,0,0,0.19)" stroke="rgba(0,0,0,0.32)" stroke-width="0.8"/>
<circle cx="178.8" cy="213.0" r="2.3" fill="rgba(0,0,0,0.19)" stroke="rgba(0,0,0,0.32)" stroke-width="0.8"/>
<circle cx="174.2" cy="213.6" r="2.3" fill="rgba(0,0,0,0.19)" stroke="rgba(0,0,0,0.32)" stroke-width="0.8"/>
<circle cx="175.6" cy="211.4" r="2.3" fill="rgba(0,0,0,0.19)" stroke="rgba(0,0,0,0.32)" stroke-width="0.8"/>
<circle cx="181.2" cy="200.1" r="2.3" fill="rgba(0,0,0,0.19)" stroke="rgba(0,0,0,0.32)" stroke-width="0.8"/>
<circle cx="178.3" cy="204.5" r="2.3" fill="rgba(0,0,0,0.19)" stroke="rgba(0,0,0,0.32)" stroke-width="0.8"/>
<circle cx="179.0" cy="218.9" r="2.3" fill="rgba(0,0,0,0.19)" stroke="rgba(0,0,0,0.32)" stroke-width="0.8"/>
<circle cx="179.1" cy="216.3" r="2.3" fill="rgba(0,0,0,0.19)" stroke="rgba(0,0,0,0.32)" stroke-width="0.8"/>
<circle cx="181.3" cy="218.6" r="2.3" fill="rgba(0,0,0,0.19)" stroke="rgba(0,0,0,0.32)" stroke-width="0.8"/>
<circle cx="179.5" cy="214.1" r="2.3" fill="rgba(0,0,0,0.19)" stroke="rgba(0,0,0,0.32)" stroke-width="0.8"/>
<circle cx="177.2" cy="215.5" r="2.3" fill="rgba(0,0,0,0.19)" stroke="rgba(0,0,0,0.32)" stroke-width="0.8"/>
<circle cx="179.1" cy="220.7" r="2.3" fill="rgba(0,0,0,0.19)" stroke="rgba(0,0,0,0.32)" stroke-width="0.8"/>
<circle cx="181.1" cy="218.6" r="2.3" fill="rgba(0,0,0,0.19)" stroke="rgba(0,0,0,0.32)" stroke-width="0.8"/>
<circle cx="178.5" cy="222.1" r="2.3" fill="rgba(0,0,0,0.19)" stroke="rgba(0,0,0,0.32)" stroke-width="0.8"/>
<circle cx="179.0" cy="219.1" r="2.3" fill="rgba(0,0,0,0.19)" stroke="rgba(0,0,0,0.32)" stroke-width="0.8"/>
<circle cx="180.5" cy="218.1" r="2.3" fill="rgba(0,0,0,0.19)" stroke="rgba(0,0,0,0.32)" stroke-width="0.8"/>
<circle cx="179.3" cy="217.5" r="2.3" fill="rgba(0,0,0,0.19)" stroke="rgba(0,0,0,0.32)" stroke-width="0.8"/>
<circle cx="182.5" cy="217.8" r="2.3" fill="rgba(0,0,0,0.19)" stroke="rgba(0,0,0,0.32)" stroke-width="0.8"/>
<circle cx="182.0" cy="220.0" r="2.3" fill="rgba(0,0,0,0.19)" stroke="rgba(0,0,0,0.32)" stroke-width="0.8"/>
<circle cx="177.1" cy="222.4" r="2.3" fill="rgba(0,0,0,0.19)" stroke="rgba(0,0,0,0.32)" stroke-width="0.8"/>
<circle cx="182.5" cy="218.6" r="2.3" fill="rgba(0,0,0,0.19)" stroke="rgba(0,0,0,0.32)" stroke-width="0.8"/>
<circle cx="176.1" cy="221.4" r="2.3" fill="rgba(0,0,0,0.19)" stroke="rgba(0,0,0,0.32)" stroke-width="0.8"/>
<circle cx="178.5" cy="214.2" r="2.3" fill="rgba(0,0,0,0.19)" stroke="rgba(0,0,0,0.32)" stroke-width="0.8"/>
<circle cx="176.9" cy="213.7" r="2.3" fill="rgba(0,0,0,0.19)" stroke="rgba(0,0,0,0.32)" stroke-width="0.8"/>
<circle cx="180.4" cy="213.7" r="2.3" fill="rgba(0,0,0,0.19)" stroke="rgba(0,0,0,0.32)" stroke-width="0.8"/>
<circle cx="182.2" cy="220.8" r="2.3" fill="rgba(0,0,0,0.19)" stroke="rgba(0,0,0,0.32)" stroke-width="0.8"/>
<circle cx="180.7" cy="214.5" r="2.3" fill="rgba(0,0,0,0.19)" stroke="rgba(0,0,0,0.32)" stroke-width="0.8"/>
<circle cx="176.1" cy="219.6" r="2.3" fill="rgba(0,0,0,0.19)" stroke="rgba(0,0,0,0.32)" stroke-width="0.8"/>
<circle cx="182.7" cy="221.8" r="2.3" fill="rgba(0,0,0,0.19)" stroke="rgba(0,0,0,0.32)" stroke-width="0.8"/>
<circle cx="219.8" cy="98.2" r="2.3" fill="rgba(0,0,0,0.19)" stroke="rgba(0,0,0,0.32)" stroke-width="0.8"/>
<circle cx="220.3" cy="98.2" r="2.3" fill="rgba(0,0,0,0.19)" stroke="rgba(0,0,0,0.32)" stroke-width="0.8"/>
<circle cx="220.8" cy="98.2" r="2.3" fill="rgba(0,0,0,0.19)" stroke="rgba(0,0,0,0.32)" stroke-width="0.8"/>
<circle cx="220.1" cy="98.2" r="2.3" fill="rgba(0,0,0,0.19)" stroke="rgba(0,0,0,0.32)" stroke-width="0.8"/>
<circle cx="220.5" cy="98.2" r="2.3" fill="rgba(0,0,0,0.19)" stroke="rgba(0,0,0,0.32)" stroke-width="0.8"/>
<circle cx="226.6" cy="98.2" r="2.3" fill="rgba(0,0,0,0.19)" stroke="rgba(0,0,0,0.32)" stroke-width="0.8"/>
<circle cx="227.3" cy="98.2" r="2.3" fill="rgba(0,0,0,0.19)" stroke="rgba(0,0,0,0.32)" stroke-width="0.8"/>
<circle cx="226.9" cy="98.2" r="2.3" fill="rgba(0,0,0,0.19)" stroke="rgba(0,0,0,0.32)" stroke-width="0.8"/>
<circle cx="224.8" cy="103.3" r="2.3" fill="rgba(0,0,0,0.19)" stroke="rgba(0,0,0,0.32)" stroke-width="0.8"/>
<circle cx="225.2" cy="104.5" r="2.3" fill="rgba(0,0,0,0.19)" stroke="rgba(0,0,0,0.32)" stroke-width="0.8"/>
<circle cx="221.0" cy="110.4" r="2.3" fill="rgba(0,0,0,0.19)" stroke="rgba(0,0,0,0.32)" stroke-width="0.8"/>
<circle cx="226.5" cy="111.5" r="2.3" fill="rgba(0,0,0,0.19)" stroke="rgba(0,0,0,0.32)" stroke-width="0.8"/>
<circle cx="222.2" cy="115.8" r="2.3" fill="rgba(0,0,0,0.19)" stroke="rgba(0,0,0,0.32)" stroke-width="0.8"/>
<circle cx="220.5" cy="123.3" r="2.3" fill="rgba(0,0,0,0.19)" stroke="rgba(0,0,0,0.32)" stroke-width="0.8"/>
<circle cx="223.3" cy="124.4" r="2.3" fill="rgba(0,0,0,0.19)" stroke="rgba(0,0,0,0.32)" stroke-width="0.8"/>
<circle cx="224.8" cy="128.7" r="2.3" fill="rgba(0,0,0,0.19)" stroke="rgba(0,0,0,0.32)" stroke-width="0.8"/>
<circle cx="223.3" cy="130.9" r="2.3" fill="rgba(0,0,0,0.19)" stroke="rgba(0,0,0,0.32)" stroke-width="0.8"/>
<circle cx="226.5" cy="133.0" r="2.3" fill="rgba(0,0,0,0.19)" stroke="rgba(0,0,0,0.32)" stroke-width="0.8"/>
<circle cx="219.6" cy="140.5" r="2.3" fill="rgba(0,0,0,0.19)" stroke="rgba(0,0,0,0.32)" stroke-width="0.8"/>
<circle cx="222.2" cy="142.7" r="2.3" fill="rgba(0,0,0,0.19)" stroke="rgba(0,0,0,0.32)" stroke-width="0.8"/>
<circle cx="224.5" cy="145.5" r="2.3" fill="rgba(0,0,0,0.19)" stroke="rgba(0,0,0,0.32)" stroke-width="0.8"/>
<circle cx="222.9" cy="149.0" r="2.3" fill="rgba(0,0,0,0.19)" stroke="rgba(0,0,0,0.32)" stroke-width="0.8"/>
<circle cx="222.0" cy="150.8" r="2.3" fill="rgba(0,0,0,0.19)" stroke="rgba(0,0,0,0.32)" stroke-width="0.8"/>
<circle cx="226.5" cy="154.3" r="2.3" fill="rgba(0,0,0,0.19)" stroke="rgba(0,0,0,0.32)" stroke-width="0.8"/>
<circle cx="219.3" cy="157.0" r="2.3" fill="rgba(0,0,0,0.19)" stroke="rgba(0,0,0,0.32)" stroke-width="0.8"/>
<circle cx="228.0" cy="158.0" r="2.3" fill="rgba(0,0,0,0.19)" stroke="rgba(0,0,0,0.32)" stroke-width="0.8"/>
<circle cx="218.4" cy="163.3" r="2.3" fill="rgba(0,0,0,0.19)" stroke="rgba(0,0,0,0.32)" stroke-width="0.8"/>
<circle cx="221.1" cy="164.2" r="2.3" fill="rgba(0,0,0,0.19)" stroke="rgba(0,0,0,0.32)" stroke-width="0.8"/>
<circle cx="220.2" cy="166.9" r="2.3" fill="rgba(0,0,0,0.19)" stroke="rgba(0,0,0,0.32)" stroke-width="0.8"/>
<circle cx="222.0" cy="166.0" r="2.3" fill="rgba(0,0,0,0.19)" stroke="rgba(0,0,0,0.32)" stroke-width="0.8"/>
<circle cx="220.8" cy="173.2" r="2.3" fill="rgba(0,0,0,0.19)" stroke="rgba(0,0,0,0.32)" stroke-width="0.8"/>
<circle cx="224.4" cy="175.0" r="2.3" fill="rgba(0,0,0,0.19)" stroke="rgba(0,0,0,0.32)" stroke-width="0.8"/>
<circle cx="219.3" cy="180.3" r="2.3" fill="rgba(0,0,0,0.19)" stroke="rgba(0,0,0,0.32)" stroke-width="0.8"/>
<circle cx="226.1" cy="182.1" r="2.3" fill="rgba(0,0,0,0.19)" stroke="rgba(0,0,0,0.32)" stroke-width="0.8"/>
<circle cx="228.3" cy="183.0" r="2.3" fill="rgba(0,0,0,0.19)" stroke="rgba(0,0,0,0.32)" stroke-width="0.8"/>
<circle cx="227.8" cy="176.1" r="2.3" fill="rgba(0,0,0,0.19)" stroke="rgba(0,0,0,0.32)" stroke-width="0.8"/>
<circle cx="223.4" cy="182.7" r="2.3" fill="rgba(0,0,0,0.19)" stroke="rgba(0,0,0,0.32)" stroke-width="0.8"/>
<circle cx="226.7" cy="204.6" r="2.3" fill="rgba(0,0,0,0.19)" stroke="rgba(0,0,0,0.32)" stroke-width="0.8"/>
<circle cx="222.8" cy="174.0" r="2.3" fill="rgba(0,0,0,0.19)" stroke="rgba(0,0,0,0.32)" stroke-width="0.8"/>
<circle cx="222.0" cy="187.1" r="2.3" fill="rgba(0,0,0,0.19)" stroke="rgba(0,0,0,0.32)" stroke-width="0.8"/>
<circle cx="221.8" cy="175.2" r="2.3" fill="rgba(0,0,0,0.19)" stroke="rgba(0,0,0,0.32)" stroke-width="0.8"/>
<circle cx="218.9" cy="194.7" r="2.3" fill="rgba(0,0,0,0.19)" stroke="rgba(0,0,0,0.32)" stroke-width="0.8"/>
<circle cx="222.9" cy="188.5" r="2.3" fill="rgba(0,0,0,0.19)" stroke="rgba(0,0,0,0.32)" stroke-width="0.8"/>
<circle cx="221.9" cy="168.7" r="2.3" fill="rgba(0,0,0,0.19)" stroke="rgba(0,0,0,0.32)" stroke-width="0.8"/>
<circle cx="223.6" cy="191.1" r="2.3" fill="rgba(0,0,0,0.19)" stroke="rgba(0,0,0,0.32)" stroke-width="0.8"/>
<circle cx="228.2" cy="170.4" r="2.3" fill="rgba(0,0,0,0.19)" stroke="rgba(0,0,0,0.32)" stroke-width="0.8"/>
<circle cx="228.0" cy="197.2" r="2.3" fill="rgba(0,0,0,0.19)" stroke="rgba(0,0,0,0.32)" stroke-width="0.8"/>
<circle cx="221.2" cy="171.9" r="2.3" fill="rgba(0,0,0,0.19)" stroke="rgba(0,0,0,0.32)" stroke-width="0.8"/>
<circle cx="226.2" cy="169.5" r="2.3" fill="rgba(0,0,0,0.19)" stroke="rgba(0,0,0,0.32)" stroke-width="0.8"/>
<circle cx="219.9" cy="178.0" r="2.3" fill="rgba(0,0,0,0.19)" stroke="rgba(0,0,0,0.32)" stroke-width="0.8"/>
<circle cx="227.4" cy="183.6" r="2.3" fill="rgba(0,0,0,0.19)" stroke="rgba(0,0,0,0.32)" stroke-width="0.8"/>
<circle cx="221.2" cy="198.3" r="2.3" fill="rgba(0,0,0,0.19)" stroke="rgba(0,0,0,0.32)" stroke-width="0.8"/>
<circle cx="227.7" cy="190.7" r="2.3" fill="rgba(0,0,0,0.19)" stroke="rgba(0,0,0,0.32)" stroke-width="0.8"/>
<circle cx="225.5" cy="206.7" r="2.3" fill="rgba(0,0,0,0.19)" stroke="rgba(0,0,0,0.32)" stroke-width="0.8"/>
<circle cx="219.1" cy="188.4" r="2.3" fill="rgba(0,0,0,0.19)" stroke="rgba(0,0,0,0.32)" stroke-width="0.8"/>
<circle cx="222.8" cy="211.2" r="2.3" fill="rgba(0,0,0,0.19)" stroke="rgba(0,0,0,0.32)" stroke-width="0.8"/>
<circle cx="227.9" cy="187.8" r="2.3" fill="rgba(0,0,0,0.19)" stroke="rgba(0,0,0,0.32)" stroke-width="0.8"/>
<circle cx="226.5" cy="209.1" r="2.3" fill="rgba(0,0,0,0.19)" stroke="rgba(0,0,0,0.32)" stroke-width="0.8"/>
<circle cx="227.1" cy="188.2" r="2.3" fill="rgba(0,0,0,0.19)" stroke="rgba(0,0,0,0.32)" stroke-width="0.8"/>
<circle cx="227.1" cy="187.5" r="2.3" fill="rgba(0,0,0,0.19)" stroke="rgba(0,0,0,0.32)" stroke-width="0.8"/>
<circle cx="221.9" cy="202.2" r="2.3" fill="rgba(0,0,0,0.19)" stroke="rgba(0,0,0,0.32)" stroke-width="0.8"/>
<circle cx="227.8" cy="206.0" r="2.3" fill="rgba(0,0,0,0.19)" stroke="rgba(0,0,0,0.32)" stroke-width="0.8"/>
<circle cx="219.8" cy="195.2" r="2.3" fill="rgba(0,0,0,0.19)" stroke="rgba(0,0,0,0.32)" stroke-width="0.8"/>
<circle cx="220.9" cy="205.0" r="2.3" fill="rgba(0,0,0,0.19)" stroke="rgba(0,0,0,0.32)" stroke-width="0.8"/>
<circle cx="220.1" cy="189.2" r="2.3" fill="rgba(0,0,0,0.19)" stroke="rgba(0,0,0,0.32)" stroke-width="0.8"/>
<circle cx="220.5" cy="186.9" r="2.3" fill="rgba(0,0,0,0.19)" stroke="rgba(0,0,0,0.32)" stroke-width="0.8"/>
<circle cx="221.6" cy="196.9" r="2.3" fill="rgba(0,0,0,0.19)" stroke="rgba(0,0,0,0.32)" stroke-width="0.8"/>
<circle cx="221.4" cy="213.9" r="2.3" fill="rgba(0,0,0,0.19)" stroke="rgba(0,0,0,0.32)" stroke-width="0.8"/>
<circle cx="220.3" cy="204.0" r="2.3" fill="rgba(0,0,0,0.19)" stroke="rgba(0,0,0,0.32)" stroke-width="0.8"/>
<circle cx="218.7" cy="198.2" r="2.3" fill="rgba(0,0,0,0.19)" stroke="rgba(0,0,0,0.32)" stroke-width="0.8"/>
<circle cx="218.7" cy="194.5" r="2.3" fill="rgba(0,0,0,0.19)" stroke="rgba(0,0,0,0.32)" stroke-width="0.8"/>
<circle cx="224.0" cy="212.9" r="2.3" fill="rgba(0,0,0,0.19)" stroke="rgba(0,0,0,0.32)" stroke-width="0.8"/>
<circle cx="223.2" cy="192.2" r="2.3" fill="rgba(0,0,0,0.19)" stroke="rgba(0,0,0,0.32)" stroke-width="0.8"/>
<circle cx="219.6" cy="220.5" r="2.3" fill="rgba(0,0,0,0.19)" stroke="rgba(0,0,0,0.32)" stroke-width="0.8"/>
<circle cx="222.8" cy="216.1" r="2.3" fill="rgba(0,0,0,0.19)" stroke="rgba(0,0,0,0.32)" stroke-width="0.8"/>
<circle cx="226.8" cy="203.8" r="2.3" fill="rgba(0,0,0,0.19)" stroke="rgba(0,0,0,0.32)" stroke-width="0.8"/>
<circle cx="223.6" cy="199.9" r="2.3" fill="rgba(0,0,0,0.19)" stroke="rgba(0,0,0,0.32)" stroke-width="0.8"/>
<circle cx="228.3" cy="211.1" r="2.3" fill="rgba(0,0,0,0.19)" stroke="rgba(0,0,0,0.32)" stroke-width="0.8"/>
<circle cx="226.8" cy="209.8" r="2.3" fill="rgba(0,0,0,0.19)" stroke="rgba(0,0,0,0.32)" stroke-width="0.8"/>
<circle cx="225.0" cy="216.0" r="2.3" fill="rgba(0,0,0,0.19)" stroke="rgba(0,0,0,0.32)" stroke-width="0.8"/>
<circle cx="222.4" cy="210.9" r="2.3" fill="rgba(0,0,0,0.19)" stroke="rgba(0,0,0,0.32)" stroke-width="0.8"/>
<circle cx="220.5" cy="204.9" r="2.3" fill="rgba(0,0,0,0.19)" stroke="rgba(0,0,0,0.32)" stroke-width="0.8"/>
<circle cx="226.0" cy="205.2" r="2.3" fill="rgba(0,0,0,0.19)" stroke="rgba(0,0,0,0.32)" stroke-width="0.8"/>
<circle cx="220.8" cy="208.3" r="2.3" fill="rgba(0,0,0,0.19)" stroke="rgba(0,0,0,0.32)" stroke-width="0.8"/>
<circle cx="226.9" cy="205.4" r="2.3" fill="rgba(0,0,0,0.19)" stroke="rgba(0,0,0,0.32)" stroke-width="0.8"/>
<circle cx="225.3" cy="218.8" r="2.3" fill="rgba(0,0,0,0.19)" stroke="rgba(0,0,0,0.32)" stroke-width="0.8"/>
<circle cx="221.5" cy="208.8" r="2.3" fill="rgba(0,0,0,0.19)" stroke="rgba(0,0,0,0.32)" stroke-width="0.8"/>
<circle cx="223.4" cy="209.0" r="2.3" fill="rgba(0,0,0,0.19)" stroke="rgba(0,0,0,0.32)" stroke-width="0.8"/>
<circle cx="223.3" cy="206.7" r="2.3" fill="rgba(0,0,0,0.19)" stroke="rgba(0,0,0,0.32)" stroke-width="0.8"/>
<circle cx="228.0" cy="208.5" r="2.3" fill="rgba(0,0,0,0.19)" stroke="rgba(0,0,0,0.32)" stroke-width="0.8"/>
<circle cx="224.2" cy="220.5" r="2.3" fill="rgba(0,0,0,0.19)" stroke="rgba(0,0,0,0.32)" stroke-width="0.8"/>
<circle cx="228.0" cy="208.2" r="2.3" fill="rgba(0,0,0,0.19)" stroke="rgba(0,0,0,0.32)" stroke-width="0.8"/>
<circle cx="222.5" cy="209.3" r="2.3" fill="rgba(0,0,0,0.19)" stroke="rgba(0,0,0,0.32)" stroke-width="0.8"/>
<circle cx="222.7" cy="204.0" r="2.3" fill="rgba(0,0,0,0.19)" stroke="rgba(0,0,0,0.32)" stroke-width="0.8"/>
<circle cx="381.3" cy="226.8" r="2.3" fill="rgba(0,0,0,0.19)" stroke="rgba(0,0,0,0.32)" stroke-width="0.8"/>
<circle cx="381.5" cy="227.6" r="2.3" fill="rgba(0,0,0,0.19)" stroke="rgba(0,0,0,0.32)" stroke-width="0.8"/>
<circle cx="377.3" cy="227.6" r="2.3" fill="rgba(0,0,0,0.19)" stroke="rgba(0,0,0,0.32)" stroke-width="0.8"/>
<circle cx="380.7" cy="227.1" r="2.3" fill="rgba(0,0,0,0.19)" stroke="rgba(0,0,0,0.32)" stroke-width="0.8"/>
<circle cx="377.7" cy="226.6" r="2.3" fill="rgba(0,0,0,0.19)" stroke="rgba(0,0,0,0.32)" stroke-width="0.8"/>
<circle cx="379.3" cy="227.5" r="2.3" fill="rgba(0,0,0,0.19)" stroke="rgba(0,0,0,0.32)" stroke-width="0.8"/>
<circle cx="382.2" cy="225.6" r="2.3" fill="rgba(0,0,0,0.19)" stroke="rgba(0,0,0,0.32)" stroke-width="0.8"/>
<circle cx="382.8" cy="227.2" r="2.3" fill="rgba(0,0,0,0.19)" stroke="rgba(0,0,0,0.32)" stroke-width="0.8"/>
<circle cx="383.3" cy="226.7" r="2.3" fill="rgba(0,0,0,0.19)" stroke="rgba(0,0,0,0.32)" stroke-width="0.8"/>
<circle cx="380.0" cy="226.8" r="2.3" fill="rgba(0,0,0,0.19)" stroke="rgba(0,0,0,0.32)" stroke-width="0.8"/>
<circle cx="385.6" cy="226.5" r="2.3" fill="rgba(0,0,0,0.19)" stroke="rgba(0,0,0,0.32)" stroke-width="0.8"/>
<circle cx="382.7" cy="226.0" r="2.3" fill="rgba(0,0,0,0.19)" stroke="rgba(0,0,0,0.32)" stroke-width="0.8"/>
<circle cx="377.7" cy="226.3" r="2.3" fill="rgba(0,0,0,0.19)" stroke="rgba(0,0,0,0.32)" stroke-width="0.8"/>
<circle cx="382.6" cy="225.4" r="2.3" fill="rgba(0,0,0,0.19)" stroke="rgba(0,0,0,0.32)" stroke-width="0.8"/>
<circle cx="383.5" cy="227.3" r="2.3" fill="rgba(0,0,0,0.19)" stroke="rgba(0,0,0,0.32)" stroke-width="0.8"/>
<circle cx="381.7" cy="227.0" r="2.3" fill="rgba(0,0,0,0.19)" stroke="rgba(0,0,0,0.32)" stroke-width="0.8"/>
<circle cx="381.5" cy="226.5" r="2.3" fill="rgba(0,0,0,0.19)" stroke="rgba(0,0,0,0.32)" stroke-width="0.8"/>
<circle cx="384.2" cy="225.7" r="2.3" fill="rgba(0,0,0,0.19)" stroke="rgba(0,0,0,0.32)" stroke-width="0.8"/>
<circle cx="382.2" cy="226.2" r="2.3" fill="rgba(0,0,0,0.19)" stroke="rgba(0,0,0,0.32)" stroke-width="0.8"/>
<circle cx="383.1" cy="226.5" r="2.3" fill="rgba(0,0,0,0.19)" stroke="rgba(0,0,0,0.32)" stroke-width="0.8"/>
<circle cx="379.2" cy="227.0" r="2.3" fill="rgba(0,0,0,0.19)" stroke="rgba(0,0,0,0.32)" stroke-width="0.8"/>
<circle cx="380.3" cy="227.5" r="2.3" fill="rgba(0,0,0,0.19)" stroke="rgba(0,0,0,0.32)" stroke-width="0.8"/>
<circle cx="378.2" cy="226.8" r="2.3" fill="rgba(0,0,0,0.19)" stroke="rgba(0,0,0,0.32)" stroke-width="0.8"/>
<circle cx="382.6" cy="226.3" r="2.3" fill="rgba(0,0,0,0.19)" stroke="rgba(0,0,0,0.32)" stroke-width="0.8"/>
<circle cx="382.6" cy="227.0" r="2.3" fill="rgba(0,0,0,0.19)" stroke="rgba(0,0,0,0.32)" stroke-width="0.8"/>
<circle cx="377.3" cy="226.3" r="2.3" fill="rgba(0,0,0,0.19)" stroke="rgba(0,0,0,0.32)" stroke-width="0.8"/>
<circle cx="384.0" cy="227.6" r="2.3" fill="rgba(0,0,0,0.19)" stroke="rgba(0,0,0,0.32)" stroke-width="0.8"/>
<circle cx="381.8" cy="226.2" r="2.3" fill="rgba(0,0,0,0.19)" stroke="rgba(0,0,0,0.32)" stroke-width="0.8"/>
<circle cx="382.8" cy="225.8" r="2.3" fill="rgba(0,0,0,0.19)" stroke="rgba(0,0,0,0.32)" stroke-width="0.8"/>
<circle cx="379.4" cy="226.8" r="2.3" fill="rgba(0,0,0,0.19)" stroke="rgba(0,0,0,0.32)" stroke-width="0.8"/>
<circle cx="377.9" cy="227.4" r="2.3" fill="rgba(0,0,0,0.19)" stroke="rgba(0,0,0,0.32)" stroke-width="0.8"/>
<circle cx="379.0" cy="225.7" r="2.3" fill="rgba(0,0,0,0.19)" stroke="rgba(0,0,0,0.32)" stroke-width="0.8"/>
<circle cx="383.5" cy="226.2" r="2.3" fill="rgba(0,0,0,0.19)" stroke="rgba(0,0,0,0.32)" stroke-width="0.8"/>
<circle cx="380.5" cy="227.4" r="2.3" fill="rgba(0,0,0,0.19)" stroke="rgba(0,0,0,0.32)" stroke-width="0.8"/>
<circle cx="381.3" cy="226.8" r="2.3" fill="rgba(0,0,0,0.19)" stroke="rgba(0,0,0,0.32)" stroke-width="0.8"/>
<circle cx="382.5" cy="225.7" r="2.3" fill="rgba(0,0,0,0.19)" stroke="rgba(0,0,0,0.32)" stroke-width="0.8"/>
<circle cx="382.7" cy="227.0" r="2.3" fill="rgba(0,0,0,0.19)" stroke="rgba(0,0,0,0.32)" stroke-width="0.8"/>
<circle cx="379.4" cy="227.3" r="2.3" fill="rgba(0,0,0,0.19)" stroke="rgba(0,0,0,0.32)" stroke-width="0.8"/>
<circle cx="383.5" cy="227.1" r="2.3" fill="rgba(0,0,0,0.19)" stroke="rgba(0,0,0,0.32)" stroke-width="0.8"/>
<circle cx="377.4" cy="226.1" r="2.3" fill="rgba(0,0,0,0.19)" stroke="rgba(0,0,0,0.32)" stroke-width="0.8"/>
<circle cx="377.8" cy="227.4" r="2.3" fill="rgba(0,0,0,0.19)" stroke="rgba(0,0,0,0.32)" stroke-width="0.8"/>
<circle cx="383.1" cy="225.8" r="2.3" fill="rgba(0,0,0,0.19)" stroke="rgba(0,0,0,0.32)" stroke-width="0.8"/>
<circle cx="383.0" cy="227.2" r="2.3" fill="rgba(0,0,0,0.19)" stroke="rgba(0,0,0,0.32)" stroke-width="0.8"/>
<circle cx="381.2" cy="226.2" r="2.3" fill="rgba(0,0,0,0.19)" stroke="rgba(0,0,0,0.32)" stroke-width="0.8"/>
<circle cx="381.2" cy="225.7" r="2.3" fill="rgba(0,0,0,0.19)" stroke="rgba(0,0,0,0.32)" stroke-width="0.8"/>
<circle cx="381.3" cy="217.9" r="2.3" fill="rgba(0,0,0,0.19)" stroke="rgba(0,0,0,0.32)" stroke-width="0.8"/>
<circle cx="378.0" cy="220.5" r="2.3" fill="rgba(0,0,0,0.19)" stroke="rgba(0,0,0,0.32)" stroke-width="0.8"/>
<circle cx="384.0" cy="221.0" r="2.3" fill="rgba(0,0,0,0.19)" stroke="rgba(0,0,0,0.32)" stroke-width="0.8"/>
<circle cx="380.0" cy="222.5" r="2.3" fill="rgba(0,0,0,0.19)" stroke="rgba(0,0,0,0.32)" stroke-width="0.8"/>
<circle cx="383.5" cy="223.0" r="2.3" fill="rgba(0,0,0,0.19)" stroke="rgba(0,0,0,0.32)" stroke-width="0.8"/>
<circle cx="384.5" cy="182.1" r="2.3" fill="rgba(0,0,0,0.19)" stroke="rgba(0,0,0,0.32)" stroke-width="0.8"/>
<circle cx="383.8" cy="203.8" r="2.3" fill="rgba(0,0,0,0.19)" stroke="rgba(0,0,0,0.32)" stroke-width="0.8"/>
<circle cx="379.3" cy="211.6" r="2.3" fill="rgba(0,0,0,0.19)" stroke="rgba(0,0,0,0.32)" stroke-width="0.8"/>
<circle cx="423.7" cy="225.1" r="2.3" fill="rgba(0,0,0,0.19)" stroke="rgba(0,0,0,0.32)" stroke-width="0.8"/>
<circle cx="430.7" cy="227.1" r="2.3" fill="rgba(0,0,0,0.19)" stroke="rgba(0,0,0,0.32)" stroke-width="0.8"/>
<circle cx="426.0" cy="227.3" r="2.3" fill="rgba(0,0,0,0.19)" stroke="rgba(0,0,0,0.32)" stroke-width="0.8"/>
<circle cx="429.3" cy="225.7" r="2.3" fill="rgba(0,0,0,0.19)" stroke="rgba(0,0,0,0.32)" stroke-width="0.8"/>
<circle cx="424.3" cy="227.1" r="2.3" fill="rgba(0,0,0,0.19)" stroke="rgba(0,0,0,0.32)" stroke-width="0.8"/>
<circle cx="423.8" cy="226.4" r="2.3" fill="rgba(0,0,0,0.19)" stroke="rgba(0,0,0,0.32)" stroke-width="0.8"/>
<circle cx="427.1" cy="227.0" r="2.3" fill="rgba(0,0,0,0.19)" stroke="rgba(0,0,0,0.32)" stroke-width="0.8"/>
<circle cx="423.2" cy="223.5" r="2.3" fill="rgba(0,0,0,0.19)" stroke="rgba(0,0,0,0.32)" stroke-width="0.8"/>
<circle cx="423.1" cy="226.8" r="2.3" fill="rgba(0,0,0,0.19)" stroke="rgba(0,0,0,0.32)" stroke-width="0.8"/>
<circle cx="429.3" cy="224.1" r="2.3" fill="rgba(0,0,0,0.19)" stroke="rgba(0,0,0,0.32)" stroke-width="0.8"/>
<circle cx="428.2" cy="227.2" r="2.3" fill="rgba(0,0,0,0.19)" stroke="rgba(0,0,0,0.32)" stroke-width="0.8"/>
<circle cx="424.0" cy="225.9" r="2.3" fill="rgba(0,0,0,0.19)" stroke="rgba(0,0,0,0.32)" stroke-width="0.8"/>
<circle cx="422.1" cy="226.3" r="2.3" fill="rgba(0,0,0,0.19)" stroke="rgba(0,0,0,0.32)" stroke-width="0.8"/>
<circle cx="421.9" cy="225.7" r="2.3" fill="rgba(0,0,0,0.19)" stroke="rgba(0,0,0,0.32)" stroke-width="0.8"/>
<circle cx="424.6" cy="227.3" r="2.3" fill="rgba(0,0,0,0.19)" stroke="rgba(0,0,0,0.32)" stroke-width="0.8"/>
<circle cx="423.2" cy="226.6" r="2.3" fill="rgba(0,0,0,0.19)" stroke="rgba(0,0,0,0.32)" stroke-width="0.8"/>
<circle cx="429.5" cy="226.2" r="2.3" fill="rgba(0,0,0,0.19)" stroke="rgba(0,0,0,0.32)" stroke-width="0.8"/>
<circle cx="421.9" cy="227.4" r="2.3" fill="rgba(0,0,0,0.19)" stroke="rgba(0,0,0,0.32)" stroke-width="0.8"/>
<circle cx="423.0" cy="224.3" r="2.3" fill="rgba(0,0,0,0.19)" stroke="rgba(0,0,0,0.32)" stroke-width="0.8"/>
<circle cx="430.2" cy="226.6" r="2.3" fill="rgba(0,0,0,0.19)" stroke="rgba(0,0,0,0.32)" stroke-width="0.8"/>
<circle cx="424.5" cy="224.0" r="2.3" fill="rgba(0,0,0,0.19)" stroke="rgba(0,0,0,0.32)" stroke-width="0.8"/>
<circle cx="425.2" cy="222.8" r="2.3" fill="rgba(0,0,0,0.19)" stroke="rgba(0,0,0,0.32)" stroke-width="0.8"/>
<circle cx="427.2" cy="223.7" r="2.3" fill="rgba(0,0,0,0.19)" stroke="rgba(0,0,0,0.32)" stroke-width="0.8"/>
<circle cx="425.1" cy="226.2" r="2.3" fill="rgba(0,0,0,0.19)" stroke="rgba(0,0,0,0.32)" stroke-width="0.8"/>
<circle cx="422.3" cy="226.8" r="2.3" fill="rgba(0,0,0,0.19)" stroke="rgba(0,0,0,0.32)" stroke-width="0.8"/>
<circle cx="422.8" cy="226.7" r="2.3" fill="rgba(0,0,0,0.19)" stroke="rgba(0,0,0,0.32)" stroke-width="0.8"/>
<circle cx="430.3" cy="226.3" r="2.3" fill="rgba(0,0,0,0.19)" stroke="rgba(0,0,0,0.32)" stroke-width="0.8"/>
<circle cx="424.1" cy="227.2" r="2.3" fill="rgba(0,0,0,0.19)" stroke="rgba(0,0,0,0.32)" stroke-width="0.8"/>
<circle cx="423.6" cy="225.5" r="2.3" fill="rgba(0,0,0,0.19)" stroke="rgba(0,0,0,0.32)" stroke-width="0.8"/>
<circle cx="425.3" cy="224.2" r="2.3" fill="rgba(0,0,0,0.19)" stroke="rgba(0,0,0,0.32)" stroke-width="0.8"/>
<circle cx="429.2" cy="226.5" r="2.3" fill="rgba(0,0,0,0.19)" stroke="rgba(0,0,0,0.32)" stroke-width="0.8"/>
<circle cx="427.6" cy="224.1" r="2.3" fill="rgba(0,0,0,0.19)" stroke="rgba(0,0,0,0.32)" stroke-width="0.8"/>
<circle cx="426.8" cy="225.4" r="2.3" fill="rgba(0,0,0,0.19)" stroke="rgba(0,0,0,0.32)" stroke-width="0.8"/>
<circle cx="428.4" cy="224.9" r="2.3" fill="rgba(0,0,0,0.19)" stroke="rgba(0,0,0,0.32)" stroke-width="0.8"/>
<circle cx="426.0" cy="226.6" r="2.3" fill="rgba(0,0,0,0.19)" stroke="rgba(0,0,0,0.32)" stroke-width="0.8"/>
<circle cx="428.7" cy="226.6" r="2.3" fill="rgba(0,0,0,0.19)" stroke="rgba(0,0,0,0.32)" stroke-width="0.8"/>
<circle cx="422.3" cy="226.4" r="2.3" fill="rgba(0,0,0,0.19)" stroke="rgba(0,0,0,0.32)" stroke-width="0.8"/>
<circle cx="430.2" cy="226.1" r="2.3" fill="rgba(0,0,0,0.19)" stroke="rgba(0,0,0,0.32)" stroke-width="0.8"/>
<circle cx="425.0" cy="226.1" r="2.3" fill="rgba(0,0,0,0.19)" stroke="rgba(0,0,0,0.32)" stroke-width="0.8"/>
<circle cx="424.6" cy="227.1" r="2.3" fill="rgba(0,0,0,0.19)" stroke="rgba(0,0,0,0.32)" stroke-width="0.8"/>
<circle cx="424.2" cy="223.0" r="2.3" fill="rgba(0,0,0,0.19)" stroke="rgba(0,0,0,0.32)" stroke-width="0.8"/>
<circle cx="427.8" cy="226.8" r="2.3" fill="rgba(0,0,0,0.19)" stroke="rgba(0,0,0,0.32)" stroke-width="0.8"/>
<circle cx="425.4" cy="225.5" r="2.3" fill="rgba(0,0,0,0.19)" stroke="rgba(0,0,0,0.32)" stroke-width="0.8"/>
<circle cx="423.4" cy="226.8" r="2.3" fill="rgba(0,0,0,0.19)" stroke="rgba(0,0,0,0.32)" stroke-width="0.8"/>
<circle cx="430.1" cy="226.5" r="2.3" fill="rgba(0,0,0,0.19)" stroke="rgba(0,0,0,0.32)" stroke-width="0.8"/>
<circle cx="422.5" cy="195.6" r="2.3" fill="rgba(0,0,0,0.19)" stroke="rgba(0,0,0,0.32)" stroke-width="0.8"/>
<circle cx="430.0" cy="206.6" r="2.3" fill="rgba(0,0,0,0.19)" stroke="rgba(0,0,0,0.32)" stroke-width="0.8"/>
<circle cx="426.4" cy="212.4" r="2.3" fill="rgba(0,0,0,0.19)" stroke="rgba(0,0,0,0.32)" stroke-width="0.8"/>
<circle cx="428.0" cy="218.5" r="2.3" fill="rgba(0,0,0,0.19)" stroke="rgba(0,0,0,0.32)" stroke-width="0.8"/>
<circle cx="424.0" cy="219.5" r="2.3" fill="rgba(0,0,0,0.19)" stroke="rgba(0,0,0,0.32)" stroke-width="0.8"/>
<circle cx="423.0" cy="221.5" r="2.3" fill="rgba(0,0,0,0.19)" stroke="rgba(0,0,0,0.32)" stroke-width="0.8"/>
<circle cx="429.0" cy="222.0" r="2.3" fill="rgba(0,0,0,0.19)" stroke="rgba(0,0,0,0.32)" stroke-width="0.8"/>
<circle cx="469.8" cy="66.1" r="2.3" fill="rgba(0,0,0,0.19)" stroke="rgba(0,0,0,0.32)" stroke-width="0.8"/>
<circle cx="470.4" cy="114.5" r="2.3" fill="rgba(0,0,0,0.19)" stroke="rgba(0,0,0,0.32)" stroke-width="0.8"/>
<circle cx="474.9" cy="163.8" r="2.3" fill="rgba(0,0,0,0.19)" stroke="rgba(0,0,0,0.32)" stroke-width="0.8"/>
<circle cx="467.4" cy="174.4" r="2.3" fill="rgba(0,0,0,0.19)" stroke="rgba(0,0,0,0.32)" stroke-width="0.8"/>
<circle cx="472.5" cy="182.8" r="2.3" fill="rgba(0,0,0,0.19)" stroke="rgba(0,0,0,0.32)" stroke-width="0.8"/>
<circle cx="471.9" cy="184.2" r="2.3" fill="rgba(0,0,0,0.19)" stroke="rgba(0,0,0,0.32)" stroke-width="0.8"/>
<circle cx="470.4" cy="198.0" r="2.3" fill="rgba(0,0,0,0.19)" stroke="rgba(0,0,0,0.32)" stroke-width="0.8"/>
<circle cx="476.4" cy="198.0" r="2.3" fill="rgba(0,0,0,0.19)" stroke="rgba(0,0,0,0.32)" stroke-width="0.8"/>
<circle cx="468.2" cy="204.5" r="2.3" fill="rgba(0,0,0,0.19)" stroke="rgba(0,0,0,0.32)" stroke-width="0.8"/>
<circle cx="470.7" cy="205.2" r="2.3" fill="rgba(0,0,0,0.19)" stroke="rgba(0,0,0,0.32)" stroke-width="0.8"/>
<circle cx="469.7" cy="205.9" r="2.3" fill="rgba(0,0,0,0.19)" stroke="rgba(0,0,0,0.32)" stroke-width="0.8"/>
<circle cx="469.1" cy="219.0" r="2.3" fill="rgba(0,0,0,0.19)" stroke="rgba(0,0,0,0.32)" stroke-width="0.8"/>
<circle cx="476.1" cy="221.4" r="2.3" fill="rgba(0,0,0,0.19)" stroke="rgba(0,0,0,0.32)" stroke-width="0.8"/>
<circle cx="468.4" cy="218.7" r="2.3" fill="rgba(0,0,0,0.19)" stroke="rgba(0,0,0,0.32)" stroke-width="0.8"/>
<circle cx="467.9" cy="217.2" r="2.3" fill="rgba(0,0,0,0.19)" stroke="rgba(0,0,0,0.32)" stroke-width="0.8"/>
<circle cx="467.9" cy="218.1" r="2.3" fill="rgba(0,0,0,0.19)" stroke="rgba(0,0,0,0.32)" stroke-width="0.8"/>
<circle cx="469.4" cy="217.4" r="2.3" fill="rgba(0,0,0,0.19)" stroke="rgba(0,0,0,0.32)" stroke-width="0.8"/>
<circle cx="475.1" cy="219.4" r="2.3" fill="rgba(0,0,0,0.19)" stroke="rgba(0,0,0,0.32)" stroke-width="0.8"/>
<circle cx="470.8" cy="220.5" r="2.3" fill="rgba(0,0,0,0.19)" stroke="rgba(0,0,0,0.32)" stroke-width="0.8"/>
<circle cx="471.8" cy="218.5" r="2.3" fill="rgba(0,0,0,0.19)" stroke="rgba(0,0,0,0.32)" stroke-width="0.8"/>
<circle cx="470.1" cy="218.3" r="2.3" fill="rgba(0,0,0,0.19)" stroke="rgba(0,0,0,0.32)" stroke-width="0.8"/>
<circle cx="467.7" cy="226.9" r="2.3" fill="rgba(0,0,0,0.19)" stroke="rgba(0,0,0,0.32)" stroke-width="0.8"/>
<circle cx="468.2" cy="222.6" r="2.3" fill="rgba(0,0,0,0.19)" stroke="rgba(0,0,0,0.32)" stroke-width="0.8"/>
<circle cx="471.6" cy="225.1" r="2.3" fill="rgba(0,0,0,0.19)" stroke="rgba(0,0,0,0.32)" stroke-width="0.8"/>
<circle cx="469.0" cy="224.9" r="2.3" fill="rgba(0,0,0,0.19)" stroke="rgba(0,0,0,0.32)" stroke-width="0.8"/>
<circle cx="469.5" cy="227.8" r="2.3" fill="rgba(0,0,0,0.19)" stroke="rgba(0,0,0,0.32)" stroke-width="0.8"/>
<circle cx="471.1" cy="225.8" r="2.3" fill="rgba(0,0,0,0.19)" stroke="rgba(0,0,0,0.32)" stroke-width="0.8"/>
<circle cx="475.7" cy="225.4" r="2.3" fill="rgba(0,0,0,0.19)" stroke="rgba(0,0,0,0.32)" stroke-width="0.8"/>
<circle cx="467.3" cy="224.5" r="2.3" fill="rgba(0,0,0,0.19)" stroke="rgba(0,0,0,0.32)" stroke-width="0.8"/>
<circle cx="467.4" cy="226.7" r="2.3" fill="rgba(0,0,0,0.19)" stroke="rgba(0,0,0,0.32)" stroke-width="0.8"/>
<circle cx="471.4" cy="223.7" r="2.3" fill="rgba(0,0,0,0.19)" stroke="rgba(0,0,0,0.32)" stroke-width="0.8"/>
<circle cx="472.4" cy="225.8" r="2.3" fill="rgba(0,0,0,0.19)" stroke="rgba(0,0,0,0.32)" stroke-width="0.8"/>
<circle cx="475.4" cy="227.8" r="2.3" fill="rgba(0,0,0,0.19)" stroke="rgba(0,0,0,0.32)" stroke-width="0.8"/>
<circle cx="474.5" cy="224.5" r="2.3" fill="rgba(0,0,0,0.19)" stroke="rgba(0,0,0,0.32)" stroke-width="0.8"/>
<circle cx="469.3" cy="223.6" r="2.3" fill="rgba(0,0,0,0.19)" stroke="rgba(0,0,0,0.32)" stroke-width="0.8"/>
<circle cx="468.1" cy="226.4" r="2.3" fill="rgba(0,0,0,0.19)" stroke="rgba(0,0,0,0.32)" stroke-width="0.8"/>
<circle cx="473.2" cy="225.8" r="2.3" fill="rgba(0,0,0,0.19)" stroke="rgba(0,0,0,0.32)" stroke-width="0.8"/>
<circle cx="475.6" cy="227.3" r="2.3" fill="rgba(0,0,0,0.19)" stroke="rgba(0,0,0,0.32)" stroke-width="0.8"/>
<circle cx="474.0" cy="225.0" r="2.3" fill="rgba(0,0,0,0.19)" stroke="rgba(0,0,0,0.32)" stroke-width="0.8"/>
<circle cx="471.2" cy="227.3" r="2.3" fill="rgba(0,0,0,0.19)" stroke="rgba(0,0,0,0.32)" stroke-width="0.8"/>
<circle cx="474.1" cy="227.6" r="2.3" fill="rgba(0,0,0,0.19)" stroke="rgba(0,0,0,0.32)" stroke-width="0.8"/>
<circle cx="469.2" cy="225.3" r="2.3" fill="rgba(0,0,0,0.19)" stroke="rgba(0,0,0,0.32)" stroke-width="0.8"/>
<circle cx="469.8" cy="226.4" r="2.3" fill="rgba(0,0,0,0.19)" stroke="rgba(0,0,0,0.32)" stroke-width="0.8"/>
<circle cx="468.3" cy="227.8" r="2.3" fill="rgba(0,0,0,0.19)" stroke="rgba(0,0,0,0.32)" stroke-width="0.8"/>
<circle cx="473.4" cy="225.0" r="2.3" fill="rgba(0,0,0,0.19)" stroke="rgba(0,0,0,0.32)" stroke-width="0.8"/>
<circle cx="468.1" cy="225.6" r="2.3" fill="rgba(0,0,0,0.19)" stroke="rgba(0,0,0,0.32)" stroke-width="0.8"/>
<circle cx="472.3" cy="226.8" r="2.3" fill="rgba(0,0,0,0.19)" stroke="rgba(0,0,0,0.32)" stroke-width="0.8"/>
<circle cx="470.6" cy="227.4" r="2.3" fill="rgba(0,0,0,0.19)" stroke="rgba(0,0,0,0.32)" stroke-width="0.8"/>
<circle cx="467.2" cy="225.1" r="2.3" fill="rgba(0,0,0,0.19)" stroke="rgba(0,0,0,0.32)" stroke-width="0.8"/>
<circle cx="469.8" cy="222.9" r="2.3" fill="rgba(0,0,0,0.19)" stroke="rgba(0,0,0,0.32)" stroke-width="0.8"/>
<circle cx="472.9" cy="226.6" r="2.3" fill="rgba(0,0,0,0.19)" stroke="rgba(0,0,0,0.32)" stroke-width="0.8"/>
<circle cx="475.1" cy="226.4" r="2.3" fill="rgba(0,0,0,0.19)" stroke="rgba(0,0,0,0.32)" stroke-width="0.8"/>
<circle cx="469.3" cy="227.6" r="2.3" fill="rgba(0,0,0,0.19)" stroke="rgba(0,0,0,0.32)" stroke-width="0.8"/>
<circle cx="475.7" cy="227.3" r="2.3" fill="rgba(0,0,0,0.19)" stroke="rgba(0,0,0,0.32)" stroke-width="0.8"/>
<circle cx="467.3" cy="226.2" r="2.3" fill="rgba(0,0,0,0.19)" stroke="rgba(0,0,0,0.32)" stroke-width="0.8"/>
<circle cx="471.6" cy="226.8" r="2.3" fill="rgba(0,0,0,0.19)" stroke="rgba(0,0,0,0.32)" stroke-width="0.8"/>
<circle cx="469.4" cy="225.9" r="2.3" fill="rgba(0,0,0,0.19)" stroke="rgba(0,0,0,0.32)" stroke-width="0.8"/>
<circle cx="473.1" cy="226.5" r="2.3" fill="rgba(0,0,0,0.19)" stroke="rgba(0,0,0,0.32)" stroke-width="0.8"/>
<circle cx="467.4" cy="227.2" r="2.3" fill="rgba(0,0,0,0.19)" stroke="rgba(0,0,0,0.32)" stroke-width="0.8"/>
<circle cx="470.1" cy="225.1" r="2.3" fill="rgba(0,0,0,0.19)" stroke="rgba(0,0,0,0.32)" stroke-width="0.8"/>
<circle cx="468.9" cy="226.3" r="2.3" fill="rgba(0,0,0,0.19)" stroke="rgba(0,0,0,0.32)" stroke-width="0.8"/>
<circle cx="474.3" cy="227.6" r="2.3" fill="rgba(0,0,0,0.19)" stroke="rgba(0,0,0,0.32)" stroke-width="0.8"/>
<circle cx="468.9" cy="225.4" r="2.3" fill="rgba(0,0,0,0.19)" stroke="rgba(0,0,0,0.32)" stroke-width="0.8"/>
<circle cx="475.8" cy="226.4" r="2.3" fill="rgba(0,0,0,0.19)" stroke="rgba(0,0,0,0.32)" stroke-width="0.8"/>
<circle cx="469.2" cy="224.4" r="2.3" fill="rgba(0,0,0,0.19)" stroke="rgba(0,0,0,0.32)" stroke-width="0.8"/>
<circle cx="469.1" cy="227.7" r="2.3" fill="rgba(0,0,0,0.19)" stroke="rgba(0,0,0,0.32)" stroke-width="0.8"/>
<circle cx="516.3" cy="104.5" r="2.3" fill="rgba(0,0,0,0.19)" stroke="rgba(0,0,0,0.32)" stroke-width="0.8"/>
<circle cx="516.7" cy="122.8" r="2.3" fill="rgba(0,0,0,0.19)" stroke="rgba(0,0,0,0.32)" stroke-width="0.8"/>
<circle cx="515.2" cy="147.5" r="2.3" fill="rgba(0,0,0,0.19)" stroke="rgba(0,0,0,0.32)" stroke-width="0.8"/>
<circle cx="516.8" cy="165.8" r="2.3" fill="rgba(0,0,0,0.19)" stroke="rgba(0,0,0,0.32)" stroke-width="0.8"/>
<circle cx="513.8" cy="174.0" r="2.3" fill="rgba(0,0,0,0.19)" stroke="rgba(0,0,0,0.32)" stroke-width="0.8"/>
<circle cx="519.6" cy="179.3" r="2.3" fill="rgba(0,0,0,0.19)" stroke="rgba(0,0,0,0.32)" stroke-width="0.8"/>
<circle cx="516.0" cy="187.3" r="2.3" fill="rgba(0,0,0,0.19)" stroke="rgba(0,0,0,0.32)" stroke-width="0.8"/>
<circle cx="513.3" cy="197.8" r="2.3" fill="rgba(0,0,0,0.19)" stroke="rgba(0,0,0,0.32)" stroke-width="0.8"/>
<circle cx="518.9" cy="197.8" r="2.3" fill="rgba(0,0,0,0.19)" stroke="rgba(0,0,0,0.32)" stroke-width="0.8"/>
<circle cx="515.6" cy="198.9" r="2.3" fill="rgba(0,0,0,0.19)" stroke="rgba(0,0,0,0.32)" stroke-width="0.8"/>
<circle cx="517.0" cy="195.5" r="2.3" fill="rgba(0,0,0,0.19)" stroke="rgba(0,0,0,0.32)" stroke-width="0.8"/>
<circle cx="520.0" cy="200.5" r="2.3" fill="rgba(0,0,0,0.19)" stroke="rgba(0,0,0,0.32)" stroke-width="0.8"/>
<circle cx="516.3" cy="214.5" r="2.3" fill="rgba(0,0,0,0.19)" stroke="rgba(0,0,0,0.32)" stroke-width="0.8"/>
<circle cx="514.2" cy="206.9" r="2.3" fill="rgba(0,0,0,0.19)" stroke="rgba(0,0,0,0.32)" stroke-width="0.8"/>
<circle cx="517.6" cy="209.2" r="2.3" fill="rgba(0,0,0,0.19)" stroke="rgba(0,0,0,0.32)" stroke-width="0.8"/>
<circle cx="513.6" cy="214.5" r="2.3" fill="rgba(0,0,0,0.19)" stroke="rgba(0,0,0,0.32)" stroke-width="0.8"/>
<circle cx="514.1" cy="208.9" r="2.3" fill="rgba(0,0,0,0.19)" stroke="rgba(0,0,0,0.32)" stroke-width="0.8"/>
<circle cx="513.6" cy="214.7" r="2.3" fill="rgba(0,0,0,0.19)" stroke="rgba(0,0,0,0.32)" stroke-width="0.8"/>
<circle cx="513.0" cy="205.5" r="2.3" fill="rgba(0,0,0,0.19)" stroke="rgba(0,0,0,0.32)" stroke-width="0.8"/>
<circle cx="519.3" cy="208.9" r="2.3" fill="rgba(0,0,0,0.19)" stroke="rgba(0,0,0,0.32)" stroke-width="0.8"/>
<circle cx="518.1" cy="213.8" r="2.3" fill="rgba(0,0,0,0.19)" stroke="rgba(0,0,0,0.32)" stroke-width="0.8"/>
<circle cx="519.6" cy="215.0" r="2.3" fill="rgba(0,0,0,0.19)" stroke="rgba(0,0,0,0.32)" stroke-width="0.8"/>
<circle cx="513.9" cy="208.3" r="2.3" fill="rgba(0,0,0,0.19)" stroke="rgba(0,0,0,0.32)" stroke-width="0.8"/>
<circle cx="518.2" cy="214.4" r="2.3" fill="rgba(0,0,0,0.19)" stroke="rgba(0,0,0,0.32)" stroke-width="0.8"/>
<circle cx="517.5" cy="205.3" r="2.3" fill="rgba(0,0,0,0.19)" stroke="rgba(0,0,0,0.32)" stroke-width="0.8"/>
<circle cx="515.3" cy="208.8" r="2.3" fill="rgba(0,0,0,0.19)" stroke="rgba(0,0,0,0.32)" stroke-width="0.8"/>
<circle cx="514.6" cy="224.9" r="2.3" fill="rgba(0,0,0,0.19)" stroke="rgba(0,0,0,0.32)" stroke-width="0.8"/>
<circle cx="513.0" cy="225.0" r="2.3" fill="rgba(0,0,0,0.19)" stroke="rgba(0,0,0,0.32)" stroke-width="0.8"/>
<circle cx="514.8" cy="227.7" r="2.3" fill="rgba(0,0,0,0.19)" stroke="rgba(0,0,0,0.32)" stroke-width="0.8"/>
<circle cx="520.9" cy="221.4" r="2.3" fill="rgba(0,0,0,0.19)" stroke="rgba(0,0,0,0.32)" stroke-width="0.8"/>
<circle cx="513.4" cy="221.5" r="2.3" fill="rgba(0,0,0,0.19)" stroke="rgba(0,0,0,0.32)" stroke-width="0.8"/>
<circle cx="514.9" cy="225.0" r="2.3" fill="rgba(0,0,0,0.19)" stroke="rgba(0,0,0,0.32)" stroke-width="0.8"/>
<circle cx="515.6" cy="221.9" r="2.3" fill="rgba(0,0,0,0.19)" stroke="rgba(0,0,0,0.32)" stroke-width="0.8"/>
<circle cx="511.8" cy="224.5" r="2.3" fill="rgba(0,0,0,0.19)" stroke="rgba(0,0,0,0.32)" stroke-width="0.8"/>
<circle cx="520.5" cy="227.2" r="2.3" fill="rgba(0,0,0,0.19)" stroke="rgba(0,0,0,0.32)" stroke-width="0.8"/>
<circle cx="513.2" cy="222.9" r="2.3" fill="rgba(0,0,0,0.19)" stroke="rgba(0,0,0,0.32)" stroke-width="0.8"/>
<circle cx="511.6" cy="222.2" r="2.3" fill="rgba(0,0,0,0.19)" stroke="rgba(0,0,0,0.32)" stroke-width="0.8"/>
<circle cx="515.4" cy="225.5" r="2.3" fill="rgba(0,0,0,0.19)" stroke="rgba(0,0,0,0.32)" stroke-width="0.8"/>
<circle cx="511.7" cy="222.3" r="2.3" fill="rgba(0,0,0,0.19)" stroke="rgba(0,0,0,0.32)" stroke-width="0.8"/>
<circle cx="511.6" cy="220.5" r="2.3" fill="rgba(0,0,0,0.19)" stroke="rgba(0,0,0,0.32)" stroke-width="0.8"/>
<circle cx="513.9" cy="224.8" r="2.3" fill="rgba(0,0,0,0.19)" stroke="rgba(0,0,0,0.32)" stroke-width="0.8"/>
<circle cx="518.8" cy="225.2" r="2.3" fill="rgba(0,0,0,0.19)" stroke="rgba(0,0,0,0.32)" stroke-width="0.8"/>
<circle cx="514.0" cy="225.9" r="2.3" fill="rgba(0,0,0,0.19)" stroke="rgba(0,0,0,0.32)" stroke-width="0.8"/>
<circle cx="520.9" cy="225.8" r="2.3" fill="rgba(0,0,0,0.19)" stroke="rgba(0,0,0,0.32)" stroke-width="0.8"/>
<circle cx="518.5" cy="226.0" r="2.3" fill="rgba(0,0,0,0.19)" stroke="rgba(0,0,0,0.32)" stroke-width="0.8"/>
<circle cx="514.5" cy="227.8" r="2.3" fill="rgba(0,0,0,0.19)" stroke="rgba(0,0,0,0.32)" stroke-width="0.8"/>
<circle cx="518.9" cy="227.5" r="2.3" fill="rgba(0,0,0,0.19)" stroke="rgba(0,0,0,0.32)" stroke-width="0.8"/>
<circle cx="520.5" cy="222.2" r="2.3" fill="rgba(0,0,0,0.19)" stroke="rgba(0,0,0,0.32)" stroke-width="0.8"/>
<circle cx="511.5" cy="221.5" r="2.3" fill="rgba(0,0,0,0.19)" stroke="rgba(0,0,0,0.32)" stroke-width="0.8"/>
<circle cx="513.6" cy="219.1" r="2.3" fill="rgba(0,0,0,0.19)" stroke="rgba(0,0,0,0.32)" stroke-width="0.8"/>
<circle cx="520.8" cy="226.4" r="2.3" fill="rgba(0,0,0,0.19)" stroke="rgba(0,0,0,0.32)" stroke-width="0.8"/>
<circle cx="515.2" cy="227.8" r="2.3" fill="rgba(0,0,0,0.19)" stroke="rgba(0,0,0,0.32)" stroke-width="0.8"/>
<circle cx="516.2" cy="224.1" r="2.3" fill="rgba(0,0,0,0.19)" stroke="rgba(0,0,0,0.32)" stroke-width="0.8"/>
<circle cx="520.6" cy="225.2" r="2.3" fill="rgba(0,0,0,0.19)" stroke="rgba(0,0,0,0.32)" stroke-width="0.8"/>
<circle cx="518.7" cy="222.0" r="2.3" fill="rgba(0,0,0,0.19)" stroke="rgba(0,0,0,0.32)" stroke-width="0.8"/>
<circle cx="519.5" cy="227.1" r="2.3" fill="rgba(0,0,0,0.19)" stroke="rgba(0,0,0,0.32)" stroke-width="0.8"/>
<circle cx="514.6" cy="223.1" r="2.3" fill="rgba(0,0,0,0.19)" stroke="rgba(0,0,0,0.32)" stroke-width="0.8"/>
<circle cx="514.5" cy="223.8" r="2.3" fill="rgba(0,0,0,0.19)" stroke="rgba(0,0,0,0.32)" stroke-width="0.8"/>
<circle cx="512.1" cy="223.1" r="2.3" fill="rgba(0,0,0,0.19)" stroke="rgba(0,0,0,0.32)" stroke-width="0.8"/>
<circle cx="513.3" cy="227.8" r="2.3" fill="rgba(0,0,0,0.19)" stroke="rgba(0,0,0,0.32)" stroke-width="0.8"/>
<circle cx="511.9" cy="225.2" r="2.3" fill="rgba(0,0,0,0.19)" stroke="rgba(0,0,0,0.32)" stroke-width="0.8"/>
<circle cx="511.6" cy="224.9" r="2.3" fill="rgba(0,0,0,0.19)" stroke="rgba(0,0,0,0.32)" stroke-width="0.8"/>
<circle cx="521.1" cy="226.8" r="2.3" fill="rgba(0,0,0,0.19)" stroke="rgba(0,0,0,0.32)" stroke-width="0.8"/>
<circle cx="520.1" cy="225.1" r="2.3" fill="rgba(0,0,0,0.19)" stroke="rgba(0,0,0,0.32)" stroke-width="0.8"/>
<circle cx="512.1" cy="227.6" r="2.3" fill="rgba(0,0,0,0.19)" stroke="rgba(0,0,0,0.32)" stroke-width="0.8"/>
<circle cx="512.3" cy="222.3" r="2.3" fill="rgba(0,0,0,0.19)" stroke="rgba(0,0,0,0.32)" stroke-width="0.8"/>
<circle cx="515.8" cy="227.7" r="2.3" fill="rgba(0,0,0,0.19)" stroke="rgba(0,0,0,0.32)" stroke-width="0.8"/>
<circle cx="513.6" cy="223.6" r="2.3" fill="rgba(0,0,0,0.19)" stroke="rgba(0,0,0,0.32)" stroke-width="0.8"/>
<circle cx="518.0" cy="225.4" r="2.3" fill="rgba(0,0,0,0.19)" stroke="rgba(0,0,0,0.32)" stroke-width="0.8"/>
<circle cx="518.8" cy="224.8" r="2.3" fill="rgba(0,0,0,0.19)" stroke="rgba(0,0,0,0.32)" stroke-width="0.8"/>
<circle cx="512.5" cy="223.6" r="2.3" fill="rgba(0,0,0,0.19)" stroke="rgba(0,0,0,0.32)" stroke-width="0.8"/>
<circle cx="519.7" cy="226.6" r="2.3" fill="rgba(0,0,0,0.19)" stroke="rgba(0,0,0,0.32)" stroke-width="0.8"/>
<circle cx="515.0" cy="223.4" r="2.3" fill="rgba(0,0,0,0.19)" stroke="rgba(0,0,0,0.32)" stroke-width="0.8"/>
<circle cx="518.7" cy="227.0" r="2.3" fill="rgba(0,0,0,0.19)" stroke="rgba(0,0,0,0.32)" stroke-width="0.8"/>
<circle cx="513.8" cy="225.3" r="2.3" fill="rgba(0,0,0,0.19)" stroke="rgba(0,0,0,0.32)" stroke-width="0.8"/>
<circle cx="512.8" cy="224.4" r="2.3" fill="rgba(0,0,0,0.19)" stroke="rgba(0,0,0,0.32)" stroke-width="0.8"/>
<circle cx="514.6" cy="224.7" r="2.3" fill="rgba(0,0,0,0.19)" stroke="rgba(0,0,0,0.32)" stroke-width="0.8"/>
<circle cx="515.3" cy="223.6" r="2.3" fill="rgba(0,0,0,0.19)" stroke="rgba(0,0,0,0.32)" stroke-width="0.8"/>
<circle cx="513.6" cy="227.6" r="2.3" fill="rgba(0,0,0,0.19)" stroke="rgba(0,0,0,0.32)" stroke-width="0.8"/>
<circle cx="519.4" cy="221.7" r="2.3" fill="rgba(0,0,0,0.19)" stroke="rgba(0,0,0,0.32)" stroke-width="0.8"/>
<circle cx="512.3" cy="219.0" r="2.3" fill="rgba(0,0,0,0.19)" stroke="rgba(0,0,0,0.32)" stroke-width="0.8"/>
<circle cx="516.0" cy="225.0" r="2.3" fill="rgba(0,0,0,0.19)" stroke="rgba(0,0,0,0.32)" stroke-width="0.8"/>
<circle cx="520.4" cy="221.7" r="2.3" fill="rgba(0,0,0,0.19)" stroke="rgba(0,0,0,0.32)" stroke-width="0.8"/>
<circle cx="511.7" cy="227.3" r="2.3" fill="rgba(0,0,0,0.19)" stroke="rgba(0,0,0,0.32)" stroke-width="0.8"/>
<circle cx="513.2" cy="226.1" r="2.3" fill="rgba(0,0,0,0.19)" stroke="rgba(0,0,0,0.32)" stroke-width="0.8"/>
<circle cx="521.0" cy="220.8" r="2.3" fill="rgba(0,0,0,0.19)" stroke="rgba(0,0,0,0.32)" stroke-width="0.8"/>
</svg>
</body></html>
